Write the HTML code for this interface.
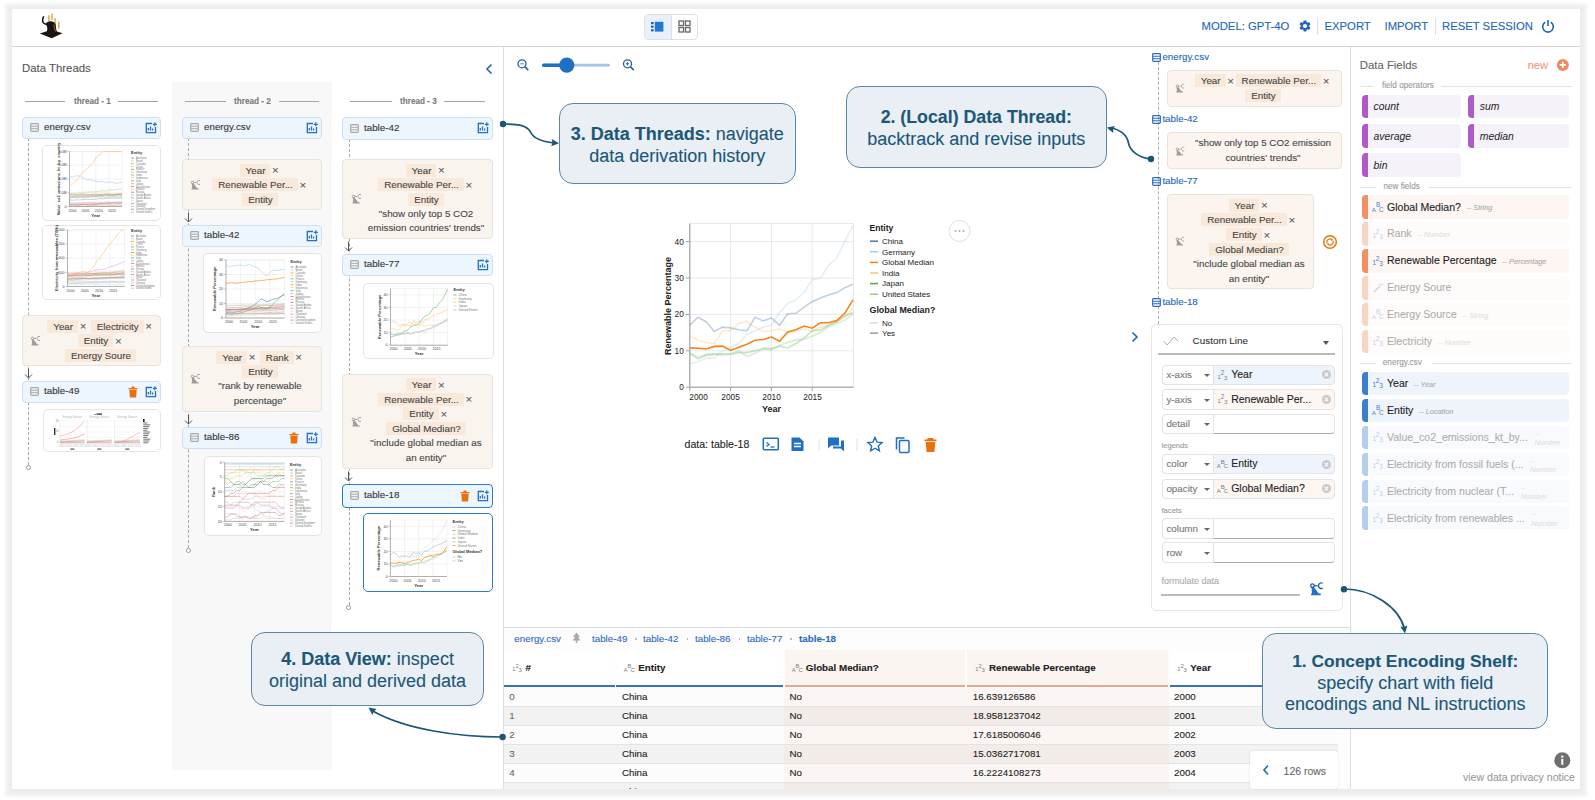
<!DOCTYPE html>
<html><head><meta charset="utf-8"><style>
*{box-sizing:border-box}
html,body{margin:0;padding:0;width:1595px;height:800px;overflow:hidden;background:#fff;font-family:"Liberation Sans",sans-serif;color:#222}
.t,.nm,.tc,.hl,.lk,.thd,.sec,.ann{-webkit-text-stroke:0.1px currentColor}
.a{position:absolute}
svg.a{overflow:visible}
.t{position:absolute;white-space:nowrap}
#frame{position:absolute;left:12px;top:9px;width:1568px;height:780px;background:#fff;box-shadow:0 1px 4px 6px rgba(0,0,0,0.075)}
.hdr{position:absolute;left:12px;top:9px;width:1568px;height:38px;border-bottom:1.5px solid #d4d4d4}
.hl{position:absolute;top:19px;font-size:11.3px;line-height:14px;color:#2266b8;white-space:nowrap}
.vsep{position:absolute;width:1px;background:#dedede}
.card{position:absolute;background:#edf5fd;border:1px solid #cddff0;border-radius:4px}
.card.sel{border:1.8px solid #2b79d0}
.nm{position:absolute;font-size:9.8px;line-height:12px;color:#333;white-space:nowrap}
.trig{position:absolute;background:#faf4ef;border:1px solid #ebe2da;border-radius:4px}
.tc{position:absolute;text-align:center;font-size:9.8px;line-height:14.5px;color:#444}
.chip{display:inline-block;background:#f8e9da;padding:0 5px 0 6px;line-height:13px;margin:0.75px 0}
.x{display:inline-block;width:10px;text-align:center;color:#555;font-size:11.5px;line-height:13px;vertical-align:top;position:relative;top:1.5px}
.mini{position:absolute;background:#fff;border:1px solid #e4e4e4;border-radius:5px;overflow:hidden}
.mini.sel{border:1.8px solid #2b79d0}
.thd{position:absolute;font-size:8.2px;font-weight:700;color:#7a7a7a;white-space:nowrap;line-height:10px}
.thl{position:absolute;height:1.4px;background:#a3a3a3}
.dash{position:absolute;width:0;border-left:1px dashed #a8a8a8}
.circ{position:absolute;width:5px;height:5px;border:1px solid #999;border-radius:50%;background:#fff}
.arr{position:absolute;font-size:11px;color:#555;line-height:12px}
.ann{position:absolute;background:#e9eff4;border:1.3px solid #5c87a3;border-radius:14px;color:#1b5878;font-size:18px;text-align:center;line-height:21.5px;white-space:nowrap}
.ann b{font-weight:700}
.lk{position:absolute;font-size:9.8px;color:#2266b8;white-space:nowrap;line-height:12px}
.lk2{position:absolute;font-size:10px;color:#2a6ac0;white-space:nowrap;line-height:12px}
.row{position:absolute;left:0;width:834px;height:19px;border-bottom:1px solid #e6e6e6}
.cell{position:absolute;top:4px;font-size:9.8px;color:#222;white-space:nowrap;line-height:12px}
.fld{position:absolute;height:24px;border-radius:4px}
.fbar{position:absolute;left:0;top:0;width:5px;height:100%;border-radius:4px 0 0 4px}
.fnm{position:absolute;left:26px;top:6px;font-size:11px;line-height:13px;white-space:nowrap}
.fty{font-size:7.5px;font-style:italic;color:#aaa;margin-left:5px}
.op{position:absolute;height:24px;border-radius:4px;background:#f5f2f9}
.op .fbar{background:#b05ac9}
.op span{position:absolute;left:11px;top:5.5px;font-size:11px;font-style:italic;line-height:13px;color:#222}
.sec{position:absolute;font-size:8.2px;color:#999;white-space:nowrap;line-height:10px}
.secl{position:absolute;height:1px;background:#e2e2e2}
.enc{position:absolute;height:21px}
.encl{position:absolute;left:0;top:0;width:53px;height:21px;border:1px solid #dcdcdc;border-radius:4px 0 0 4px;background:#fff}
.encl span{position:absolute;left:6px;top:4px;font-size:9.8px;color:#555;line-height:12px}
.encl i{position:absolute;right:6px;top:9px;width:0;height:0;border-left:3px solid transparent;border-right:3px solid transparent;border-top:3px solid #666}
.encf{position:absolute;left:52px;top:0;width:122px;height:21px;border:1px solid #dcdcdc;border-radius:0 4px 4px 0;border-bottom:1.5px solid #bbb}
</style></head><body>
<div id="frame"></div>

<svg width="0" height="0" style="position:absolute">
 <defs>
  <symbol id="tbl" viewBox="0 0 10 10"><rect x="0.75" y="0.75" width="8.5" height="8.5" rx="1" fill="none" stroke="#a9a9a9" stroke-width="1.3"/><path d="M0.8 3.6h8.4M0.8 6.4h8.4" stroke="#a9a9a9" stroke-width="1.1"/></symbol>
  <symbol id="tblb" viewBox="0 0 10 10"><rect x="0.75" y="0.75" width="8.5" height="8.5" rx="1" fill="none" stroke="#2a6ac0" stroke-width="1.3"/><path d="M0.8 3.6h8.4M0.8 6.4h8.4" stroke="#2a6ac0" stroke-width="1.1"/></symbol>
  <symbol id="cadd" viewBox="0 0 12 12"><path d="M7 1.5H1.3v9.2h9.2V5" fill="none" stroke="#2470c2" stroke-width="1.3"/><path d="M3.3 8.5v-2.5M5.5 8.5V4.5M7.6 8.5V6.5" stroke="#2470c2" stroke-width="1.3"/><path d="M9.8 0.3v4M7.8 2.3h4" stroke="#2470c2" stroke-width="1.2"/></symbol>
  <symbol id="trash" viewBox="0 0 10 12"><path d="M0.5 2h9v1.3h-9z M3.5 0.6h3v1.5h-3z" fill="#e8700f"/><path d="M1.3 3.8h7.4l-0.6 7.7h-6.2z" fill="#e8700f"/></symbol>
  <symbol id="robot" viewBox="0 0 16 16"><path d="M2.2 13.3h10.3v2H2.2z M2.6 6.2h2.3L10.4 13.3H3.2z" fill="#9c9c9c"/><circle cx="3.7" cy="5" r="1.9" fill="none" stroke="#9c9c9c" stroke-width="1.3"/><path d="M5.5 5h3.6" stroke="#9c9c9c" stroke-width="1.3"/><path d="M14.6 2.4 A3 3 0 1 0 14.6 7.6" fill="none" stroke="#9c9c9c" stroke-width="1.3"/></symbol>
  <symbol id="robotb" viewBox="0 0 16 16"><path d="M2.2 13.3h10.3v2H2.2z M2.6 6.2h2.3L10.4 13.3H3.2z" fill="#2470c2"/><circle cx="3.7" cy="5" r="1.9" fill="none" stroke="#1f5fa8" stroke-width="1.4"/><path d="M5.5 5h3.6" stroke="#1f5fa8" stroke-width="1.4"/><path d="M14.6 2.4 A3 3 0 1 0 14.6 7.6" fill="none" stroke="#1f5fa8" stroke-width="1.5"/></symbol>
  <symbol id="n123b" viewBox="0 0 12 10" overflow="visible"><g font-family="Liberation Sans" fill="#3d7fcf"><text x="0.4" y="8.8" font-size="6.4">1</text><text x="3.8" y="4.9" font-size="6.6">2</text><text x="7.2" y="9.8" font-size="6.5">3</text></g></symbol>
  <symbol id="abcb" viewBox="0 0 12 10" overflow="visible"><g font-family="Liberation Sans" fill="#3d7fcf"><text x="-0.2" y="9.3" font-size="6.2">A</text><text x="3.9" y="5.2" font-size="6.4">B</text><text x="7.0" y="9.7" font-size="6.3">C</text></g></symbol>
  <symbol id="n123" viewBox="0 0 12 10" overflow="visible"><g font-family="Liberation Sans" fill="#7d7d7d"><text x="0.4" y="8.8" font-size="6.4">1</text><text x="3.8" y="4.9" font-size="6.6">2</text><text x="7.2" y="9.8" font-size="6.5">3</text></g></symbol>
  <symbol id="abc" viewBox="0 0 12 10" overflow="visible"><g font-family="Liberation Sans" fill="#7d7d7d"><text x="-0.2" y="9.3" font-size="6.2">A</text><text x="3.9" y="5.2" font-size="6.4">B</text><text x="7.0" y="9.7" font-size="6.3">C</text></g></symbol>
 </defs>
</svg>
<div class="hdr"></div><svg class="a" style="left:35px;top:10px" width="32" height="32" viewBox="0 0 32 32">
  <path d="M13.2 5.3h1.4v5.8h-1.4z M16.3 3.8h1.4v6.2h-1.4z M19.4 8.2h1.4v9h-1.4z M23.1 11.8h1.4v6.8h-1.4z" fill="#d6a244"/>
  <path d="M8.6 6.2 C7.6 8.5 7.3 11 8.2 12.6 C9 13.8 10.3 14.1 11.3 14.3" fill="none" stroke="#1b1511" stroke-width="1.5"/>
  <path d="M10.8 14.6 C11.2 12.4 13 11.3 15.6 11.3 C18.3 11.3 20.2 12.6 20.7 14.8 C21.2 17.2 20.8 19.6 22 21.4 L27.6 23.2 L16.6 28.2 L4.8 23.6 L11.8 21.2 C12.8 19.2 12.6 16.8 10.8 14.6 Z" fill="#1b1511"/>
  <path d="M18.9 14.5 C19.6 17 19.4 19.5 20.8 21.6" stroke="#c9a35a" stroke-width="0.8" fill="none" opacity="0.8"/>
</svg><div class="a" style="left:644px;top:14px;width:54px;height:26px;border:1px solid #e0e0e0;border-radius:4px;overflow:hidden"><div class="a" style="left:0;top:0;width:27px;height:24px;background:#e8f1fb;border-right:1px solid #e0e0e0"></div></div><svg class="a" style="left:650px;top:20px" width="15" height="13"><rect x="1" y="2" width="2.6" height="2.2" fill="#2a5fa8"/><rect x="1" y="5.6" width="2.6" height="2.2" fill="#2a5fa8"/><rect x="1" y="9.2" width="2.6" height="2.2" fill="#2a5fa8"/><rect x="4.8" y="1.8" width="8.6" height="9.8" fill="#1f78d1"/></svg><svg class="a" style="left:677px;top:19px" width="15" height="15"><g fill="none" stroke="#666" stroke-width="1.3"><rect x="2" y="2" width="4.5" height="4.5"/><rect x="8.5" y="2" width="4.5" height="4.5"/><rect x="2" y="8.5" width="4.5" height="4.5"/><rect x="8.5" y="8.5" width="4.5" height="4.5"/></g></svg><div class="hl" style="left:1201.5px">MODEL: GPT-4O</div><svg class="a" style="left:1298px;top:19px" width="14" height="14" viewBox="0 0 24 24"><path fill="#2266b8" d="M19.14 12.94c.04-.3.06-.61.06-.94 0-.32-.02-.64-.07-.94l2.03-1.58c.18-.14.23-.41.12-.61l-1.92-3.32c-.12-.22-.37-.29-.59-.22l-2.39.96c-.5-.38-1.03-.7-1.62-.94l-.36-2.54c-.04-.24-.24-.41-.48-.41h-3.84c-.24 0-.43.17-.47.41l-.36 2.54c-.59.24-1.13.57-1.62.94l-2.39-.96c-.22-.08-.47 0-.59.22L2.74 8.87c-.12.21-.08.47.12.61l2.03 1.58c-.05.3-.09.63-.09.94s.02.64.07.94l-2.03 1.58c-.18.14-.23.41-.12.61l1.92 3.32c.12.22.37.29.59.22l2.39-.96c.5.38 1.03.7 1.62.94l.36 2.54c.05.24.24.41.48.41h3.84c.24 0 .44-.17.47-.41l.36-2.54c.59-.24 1.13-.56 1.62-.94l2.39.96c.22.08.47 0 .59-.22l1.92-3.32c.12-.22.07-.47-.12-.61l-2.01-1.58zM12 15.6c-1.98 0-3.6-1.62-3.6-3.6s1.62-3.6 3.6-3.6 3.6 1.62 3.6 3.6-1.62 3.6-3.6 3.6z"/></svg><div class="vsep" style="left:1317px;top:18px;height:17px"></div><div class="hl" style="left:1324.5px">EXPORT</div><div class="hl" style="left:1384.5px">IMPORT</div><div class="vsep" style="left:1435px;top:18px;height:17px"></div><div class="hl" style="left:1442px">RESET SESSION</div><svg class="a" style="left:1541px;top:19px" width="14" height="14"><path d="M4.2 3.3 A5.3 5.3 0 1 0 9.8 3.3" fill="none" stroke="#2266b8" stroke-width="1.6"/><path d="M7 1v6" stroke="#2266b8" stroke-width="1.6"/></svg>
<div class="vsep" style="left:503px;top:47px;height:742px"></div><div class="vsep" style="left:1350px;top:47px;height:742px"></div>
<div class="t" style="left:22px;top:62px;font-size:11.4px;line-height:13px;color:#555">Data Threads</div><svg class="a" style="left:484px;top:63px" width="10" height="12"><path d="M7.5 1.5 L3 6 L7.5 10.5" fill="none" stroke="#2266b8" stroke-width="1.6"/></svg><div class="a" style="left:172px;top:82px;width:160px;height:687.5px;background:#f8f8f8"></div><div class="thl" style="left:25px;top:101px;width:40px"></div><div class="thl" style="left:118px;top:101px;width:40px"></div><div class="thd" style="left:74px;top:97.3px">thread - 1</div><div class="thl" style="left:185px;top:101px;width:40.599999999999994px"></div><div class="thl" style="left:278.8px;top:101px;width:40.599999999999966px"></div><div class="thd" style="left:234px;top:97.3px">thread - 2</div><div class="thl" style="left:350.4px;top:101px;width:41.60000000000002px"></div><div class="thl" style="left:444px;top:101px;width:41px"></div><div class="thd" style="left:400px;top:97.3px">thread - 3</div><div class="dash" style="left:28px;top:138px;height:327px"></div><div class="circ" style="left:25.5px;top:464.5px"></div><div class="dash" style="left:188px;top:138px;height:410px"></div><div class="circ" style="left:185.5px;top:547.5px"></div><div class="dash" style="left:348.5px;top:139px;height:466px"></div><div class="circ" style="left:346px;top:604.5px"></div><div class="card" style="left:22px;top:116.5px;width:139px;height:22.5px"></div><svg class="a" style="left:30px;top:123.1px" width="9" height="9"><use href="#tbl"/></svg><div class="nm" style="left:44px;top:121.1px">energy.csv</div><svg class="a" style="left:144.5px;top:121.6px" width="12" height="12"><use href="#cadd"/></svg><div class="mini" style="left:42px;top:145px;width:119px;height:76px"></div><svg class="a" style="left:42px;top:145px" width="119" height="76" viewBox="42 145 119 76"><rect x="69.5" y="151.5" width="52.5" height="55.0" fill="none" stroke="#e8e8e8" stroke-width="0.5"/><line x1="69.5" y1="206.5" x2="122" y2="206.5" stroke="#e4e4e4" stroke-width="0.5"/><line x1="67.5" y1="206.5" x2="69.5" y2="206.5" stroke="#888" stroke-width="0.5"/><text x="66.5" y="207.7" font-family="Liberation Sans" font-size="3.6" text-anchor="end" fill="#444">0</text><line x1="69.5" y1="192.8" x2="122" y2="192.8" stroke="#e4e4e4" stroke-width="0.5"/><line x1="67.5" y1="192.8" x2="69.5" y2="192.8" stroke="#888" stroke-width="0.5"/><text x="66.5" y="193.9" font-family="Liberation Sans" font-size="3.6" text-anchor="end" fill="#444">2.0M</text><line x1="69.5" y1="179.0" x2="122" y2="179.0" stroke="#e4e4e4" stroke-width="0.5"/><line x1="67.5" y1="179.0" x2="69.5" y2="179.0" stroke="#888" stroke-width="0.5"/><text x="66.5" y="180.2" font-family="Liberation Sans" font-size="3.6" text-anchor="end" fill="#444">4.0M</text><line x1="69.5" y1="165.2" x2="122" y2="165.2" stroke="#e4e4e4" stroke-width="0.5"/><line x1="67.5" y1="165.2" x2="69.5" y2="165.2" stroke="#888" stroke-width="0.5"/><text x="66.5" y="166.4" font-family="Liberation Sans" font-size="3.6" text-anchor="end" fill="#444">6.0M</text><line x1="69.5" y1="151.5" x2="122" y2="151.5" stroke="#e4e4e4" stroke-width="0.5"/><line x1="67.5" y1="151.5" x2="69.5" y2="151.5" stroke="#888" stroke-width="0.5"/><text x="66.5" y="152.7" font-family="Liberation Sans" font-size="3.6" text-anchor="end" fill="#444">8.0M</text><text x="72.5" y="211.5" font-family="Liberation Sans" font-size="3.6" text-anchor="middle" fill="#444">2000</text><line x1="82.6" y1="151.5" x2="82.6" y2="206.5" stroke="#e4e4e4" stroke-width="0.5"/><text x="85.6" y="211.5" font-family="Liberation Sans" font-size="3.6" text-anchor="middle" fill="#444">2005</text><line x1="95.8" y1="151.5" x2="95.8" y2="206.5" stroke="#e4e4e4" stroke-width="0.5"/><text x="98.8" y="211.5" font-family="Liberation Sans" font-size="3.6" text-anchor="middle" fill="#444">2010</text><line x1="108.9" y1="151.5" x2="108.9" y2="206.5" stroke="#e4e4e4" stroke-width="0.5"/><text x="111.9" y="211.5" font-family="Liberation Sans" font-size="3.6" text-anchor="middle" fill="#444">2015</text><line x1="69.5" y1="151.5" x2="69.5" y2="206.5" stroke="#888" stroke-width="0.6"/><line x1="69.5" y1="206.5" x2="122" y2="206.5" stroke="#888" stroke-width="0.6"/><text transform="translate(59.5,179.0) rotate(-90)" font-family="Liberation Sans" font-size="4.1" font-weight="700" text-anchor="middle" fill="#333">Value_co2_emissions_kt_by_country</text><text x="95.8" y="216.5" font-family="Liberation Sans" font-size="4.2" font-weight="700" text-anchor="middle" fill="#333">Year</text><polyline points="69.5,199.9 72.1,200.2 74.8,200.0 77.4,199.8 80.0,200.0 82.6,199.7 85.2,199.4 87.9,199.2 90.5,199.6 93.1,199.3 95.8,199.4 98.4,198.7 101.0,198.6 103.6,199.0 106.2,198.2 108.9,198.0 111.5,198.2 114.1,198.1 116.8,198.3 119.4,198.3 122.0,197.8" fill="none" stroke="#4c78a8" stroke-width="0.6" opacity="0.55"/><polyline points="69.5,176.2 72.1,177.3 74.8,176.2 77.4,175.7 80.0,176.2 82.6,177.9 85.2,179.0 87.9,180.1 90.5,179.6 93.1,180.7 95.8,181.2 98.4,181.8 101.0,181.2 103.6,182.3 106.2,182.8 108.9,181.8 111.5,182.3 114.1,182.8 116.8,183.4 119.4,182.8 122.0,182.3" fill="none" stroke="#9ecae9" stroke-width="0.7" opacity="0.8"/><polyline points="69.5,194.5 72.1,194.5 74.8,195.1 77.4,194.9 80.0,194.3 82.6,194.6 85.2,194.1 87.9,194.5 90.5,194.7 93.1,194.2 95.8,194.0 98.4,194.3 101.0,194.4 103.6,194.2 106.2,193.6 108.9,193.7 111.5,194.1 114.1,194.0 116.8,194.0 119.4,194.0 122.0,193.3" fill="none" stroke="#f58518" stroke-width="0.6" opacity="0.55"/><polyline points="69.5,187.2 72.1,184.5 74.8,181.8 77.4,179.0 80.0,175.7 82.6,172.4 85.2,170.2 87.9,168.0 90.5,165.2 93.1,162.5 95.8,158.1 98.4,155.3 101.0,153.7 103.6,151.5 106.2,151.5 108.9,151.5 111.5,151.5 114.1,151.5 116.8,151.5 119.4,151.5 122.0,151.5" fill="none" stroke="#ffbf79" stroke-width="0.7" opacity="0.9"/><polyline points="69.5,196.0 72.1,196.2 74.8,196.1 77.4,195.7 80.0,195.9 82.6,195.6 85.2,195.7 87.9,195.6 90.5,195.1 93.1,195.5 95.8,195.4 98.4,195.1 101.0,195.6 103.6,195.6 106.2,194.9 108.9,194.9 111.5,195.4 114.1,195.4 116.8,194.9 119.4,194.7 122.0,195.2" fill="none" stroke="#54a24b" stroke-width="0.6" opacity="0.55"/><polyline points="69.5,193.4 72.1,193.3 74.8,193.3 77.4,193.1 80.0,192.1 82.6,192.5 85.2,191.9 87.9,192.0 90.5,191.3 93.1,191.2 95.8,191.3 98.4,191.1 101.0,190.4 103.6,190.7 106.2,190.4 108.9,189.9 111.5,189.4 114.1,189.4 116.8,189.4 119.4,188.6 122.0,189.0" fill="none" stroke="#88d27a" stroke-width="0.6" opacity="0.55"/><polyline points="69.5,206.3 72.1,206.5 74.8,206.5 77.4,206.3 80.0,206.1 82.6,206.5 85.2,206.2 87.9,205.8 90.5,205.7 93.1,205.9 95.8,205.9 98.4,205.9 101.0,206.3 103.6,206.3 106.2,206.3 108.9,205.6 111.5,205.7 114.1,205.5 116.8,206.2 119.4,205.7 122.0,205.8" fill="none" stroke="#b79a20" stroke-width="0.6" opacity="0.55"/><polyline points="69.5,196.0 72.1,196.8 74.8,196.3 77.4,196.1 80.0,196.0 82.6,196.1 85.2,196.0 87.9,195.9 90.5,195.8 93.1,196.2 95.8,195.9 98.4,195.7 101.0,195.7 103.6,196.0 106.2,195.6 108.9,195.5 111.5,195.7 114.1,195.7 116.8,195.8 119.4,195.6 122.0,195.5" fill="none" stroke="#f2cf5b" stroke-width="0.6" opacity="0.55"/><polyline points="69.5,205.0 72.1,204.9 74.8,204.9 77.4,205.0 80.0,204.6 82.6,204.6 85.2,204.5 87.9,204.1 90.5,204.5 93.1,203.8 95.8,204.3 98.4,203.7 101.0,203.6 103.6,203.7 106.2,203.1 108.9,203.1 111.5,202.9 114.1,202.5 116.8,202.9 119.4,202.9 122.0,202.5" fill="none" stroke="#439894" stroke-width="0.6" opacity="0.55"/><polyline points="69.5,197.4 72.1,196.8 74.8,197.0 77.4,197.2 80.0,196.8 82.6,197.3 85.2,197.0 87.9,197.4 90.5,197.2 93.1,196.9 95.8,196.8 98.4,196.9 101.0,197.3 103.6,197.1 106.2,197.3 108.9,197.5 111.5,197.2 114.1,196.9 116.8,196.9 119.4,197.0 122.0,196.8" fill="none" stroke="#83bcb6" stroke-width="0.6" opacity="0.55"/><polyline points="69.5,202.7 72.1,202.9 74.8,203.0 77.4,202.8 80.0,202.6 82.6,202.8 85.2,202.9 87.9,202.5 90.5,202.4 93.1,202.8 95.8,203.2 98.4,203.2 101.0,202.5 103.6,203.2 106.2,202.7 108.9,202.8 111.5,203.0 114.1,202.6 116.8,203.3 119.4,203.2 122.0,202.9" fill="none" stroke="#e45756" stroke-width="0.6" opacity="0.55"/><polyline points="69.5,206.4 72.1,206.2 74.8,206.1 77.4,205.4 80.0,205.3 82.6,205.0 85.2,204.7 87.9,204.4 90.5,204.1 93.1,204.1 95.8,204.2 98.4,203.8 101.0,203.8 103.6,203.7 106.2,203.2 108.9,202.7 111.5,203.0 114.1,202.7 116.8,202.4 119.4,201.9 122.0,201.8" fill="none" stroke="#ff9d98" stroke-width="0.6" opacity="0.55"/><polyline points="69.5,198.1 72.1,197.6 74.8,197.3 77.4,197.8 80.0,196.9 82.6,196.9 85.2,197.2 87.9,196.8 90.5,196.4 93.1,196.0 95.8,196.2 98.4,195.9 101.0,195.4 103.6,195.3 106.2,195.0 108.9,195.2 111.5,194.9 114.1,195.0 116.8,194.4 119.4,194.2 122.0,194.1" fill="none" stroke="#79706e" stroke-width="0.6" opacity="0.55"/><polyline points="69.5,196.3 72.1,196.2 74.8,196.2 77.4,196.6 80.0,196.4 82.6,196.8 85.2,196.3 87.9,196.3 90.5,196.7 93.1,196.9 95.8,196.6 98.4,196.5 101.0,196.4 103.6,196.6 106.2,197.0 108.9,196.3 111.5,196.9 114.1,196.3 116.8,196.8 119.4,196.7 122.0,196.3" fill="none" stroke="#bab0ac" stroke-width="0.6" opacity="0.55"/><polyline points="69.5,204.6 72.1,204.4 74.8,204.3 77.4,204.5 80.0,204.3 82.6,204.7 85.2,204.3 87.9,205.0 90.5,204.9 93.1,204.7 95.8,204.9 98.4,204.6 101.0,204.7 103.6,204.8 106.2,204.5 108.9,204.8 111.5,205.0 114.1,205.0 116.8,204.6 119.4,204.6 122.0,205.2" fill="none" stroke="#d67195" stroke-width="0.6" opacity="0.55"/><polyline points="69.5,194.8 72.1,194.5 74.8,194.5 77.4,194.0 80.0,193.7 82.6,193.4 85.2,193.6 87.9,192.6 90.5,192.7 93.1,192.5 95.8,191.9 98.4,191.8 101.0,191.6 103.6,191.2 106.2,191.5 108.9,190.8 111.5,190.6 114.1,189.9 116.8,189.7 119.4,190.0 122.0,189.5" fill="none" stroke="#fcbfd2" stroke-width="0.6" opacity="0.55"/><polyline points="69.5,204.5 72.1,204.3 74.8,204.6 77.4,204.7 80.0,204.7 82.6,204.3 85.2,203.9 87.9,204.5 90.5,203.9 93.1,204.4 95.8,204.2 98.4,204.1 101.0,203.6 103.6,203.9 106.2,203.7 108.9,203.5 111.5,203.8 114.1,203.2 116.8,203.6 119.4,203.2 122.0,203.4" fill="none" stroke="#b279a2" stroke-width="0.6" opacity="0.55"/><polyline points="69.5,203.8 72.1,203.8 74.8,203.6 77.4,203.4 80.0,203.6 82.6,203.5 85.2,203.0 87.9,202.9 90.5,202.8 93.1,202.5 95.8,202.6 98.4,202.2 101.0,202.6 103.6,202.1 106.2,201.9 108.9,201.7 111.5,202.1 114.1,202.0 116.8,201.4 119.4,201.9 122.0,201.1" fill="none" stroke="#d6a5c9" stroke-width="0.6" opacity="0.55"/><polyline points="69.5,194.5 72.1,194.1 74.8,194.5 77.4,194.7 80.0,194.1 82.6,194.5 85.2,194.2 87.9,194.8 90.5,194.6 93.1,194.3 95.8,194.9 98.4,194.8 101.0,194.4 103.6,194.3 106.2,194.2 108.9,195.0 111.5,194.7 114.1,194.5 116.8,194.7 119.4,194.6 122.0,195.0" fill="none" stroke="#9e765f" stroke-width="0.6" opacity="0.55"/><polyline points="69.5,205.9 72.1,205.5 74.8,205.6 77.4,205.6 80.0,206.0 82.6,206.0 85.2,206.0 87.9,205.5 90.5,205.4 93.1,205.5 95.8,206.2 98.4,206.2 101.0,205.5 103.6,206.0 106.2,205.8 108.9,206.2 111.5,206.1 114.1,206.1 116.8,206.2 119.4,206.1 122.0,206.5" fill="none" stroke="#d8b5a5" stroke-width="0.6" opacity="0.55"/><text x="131" y="154.2" font-family="Liberation Sans" font-size="4" font-weight="700" fill="#333">Entity</text><line x1="131" y1="158.0" x2="134" y2="158.0" stroke="#4c78a8" stroke-width="0.7"/><text x="136" y="159.0" font-family="Liberation Sans" font-size="2.71" fill="#7a7a7a">Australia</text><line x1="131" y1="160.8" x2="134" y2="160.8" stroke="#9ecae9" stroke-width="0.7"/><text x="136" y="161.8" font-family="Liberation Sans" font-size="2.71" fill="#7a7a7a">Brazil</text><line x1="131" y1="163.7" x2="134" y2="163.7" stroke="#f58518" stroke-width="0.7"/><text x="136" y="164.7" font-family="Liberation Sans" font-size="2.71" fill="#7a7a7a">Canada</text><line x1="131" y1="166.6" x2="134" y2="166.6" stroke="#ffbf79" stroke-width="0.7"/><text x="136" y="167.6" font-family="Liberation Sans" font-size="2.71" fill="#7a7a7a">China</text><line x1="131" y1="169.4" x2="134" y2="169.4" stroke="#54a24b" stroke-width="0.7"/><text x="136" y="170.4" font-family="Liberation Sans" font-size="2.71" fill="#7a7a7a">France</text><line x1="131" y1="172.2" x2="134" y2="172.2" stroke="#88d27a" stroke-width="0.7"/><text x="136" y="173.2" font-family="Liberation Sans" font-size="2.71" fill="#7a7a7a">Germany</text><line x1="131" y1="175.1" x2="134" y2="175.1" stroke="#b79a20" stroke-width="0.7"/><text x="136" y="176.1" font-family="Liberation Sans" font-size="2.71" fill="#7a7a7a">India</text><line x1="131" y1="177.9" x2="134" y2="177.9" stroke="#f2cf5b" stroke-width="0.7"/><text x="136" y="178.9" font-family="Liberation Sans" font-size="2.71" fill="#7a7a7a">Indonesia</text><line x1="131" y1="180.8" x2="134" y2="180.8" stroke="#439894" stroke-width="0.7"/><text x="136" y="181.8" font-family="Liberation Sans" font-size="2.71" fill="#7a7a7a">Italy</text><line x1="131" y1="183.7" x2="134" y2="183.7" stroke="#83bcb6" stroke-width="0.7"/><text x="136" y="184.7" font-family="Liberation Sans" font-size="2.71" fill="#7a7a7a">Japan</text><line x1="131" y1="186.5" x2="134" y2="186.5" stroke="#e45756" stroke-width="0.7"/><text x="136" y="187.5" font-family="Liberation Sans" font-size="2.71" fill="#7a7a7a">Kazakhstan</text><line x1="131" y1="189.3" x2="134" y2="189.3" stroke="#ff9d98" stroke-width="0.7"/><text x="136" y="190.3" font-family="Liberation Sans" font-size="2.71" fill="#7a7a7a">Mexico</text><line x1="131" y1="192.2" x2="134" y2="192.2" stroke="#79706e" stroke-width="0.7"/><text x="136" y="193.2" font-family="Liberation Sans" font-size="2.71" fill="#7a7a7a">Russia</text><line x1="131" y1="195.1" x2="134" y2="195.1" stroke="#bab0ac" stroke-width="0.7"/><text x="136" y="196.1" font-family="Liberation Sans" font-size="2.71" fill="#7a7a7a">Saudi Arabia</text><line x1="131" y1="197.9" x2="134" y2="197.9" stroke="#d67195" stroke-width="0.7"/><text x="136" y="198.9" font-family="Liberation Sans" font-size="2.71" fill="#7a7a7a">South Africa</text><line x1="131" y1="200.8" x2="134" y2="200.8" stroke="#fcbfd2" stroke-width="0.7"/><text x="136" y="201.8" font-family="Liberation Sans" font-size="2.71" fill="#7a7a7a">Spain</text><line x1="131" y1="203.6" x2="134" y2="203.6" stroke="#b279a2" stroke-width="0.7"/><text x="136" y="204.6" font-family="Liberation Sans" font-size="2.71" fill="#7a7a7a">Thailand</text><line x1="131" y1="206.4" x2="134" y2="206.4" stroke="#d6a5c9" stroke-width="0.7"/><text x="136" y="207.4" font-family="Liberation Sans" font-size="2.71" fill="#7a7a7a">Ukraine</text><line x1="131" y1="209.3" x2="134" y2="209.3" stroke="#9e765f" stroke-width="0.7"/><text x="136" y="210.3" font-family="Liberation Sans" font-size="2.71" fill="#7a7a7a">United Kingdom</text><line x1="131" y1="212.2" x2="134" y2="212.2" stroke="#d8b5a5" stroke-width="0.7"/><text x="136" y="213.2" font-family="Liberation Sans" font-size="2.71" fill="#7a7a7a">United States</text></svg><div class="mini" style="left:42px;top:225px;width:119px;height:75px"></div><svg class="a" style="left:42px;top:225px" width="119" height="75" viewBox="42 225 119 75"><rect x="67.5" y="230" width="57.0" height="56.5" fill="none" stroke="#e8e8e8" stroke-width="0.5"/><line x1="67.5" y1="286.5" x2="124.5" y2="286.5" stroke="#e4e4e4" stroke-width="0.5"/><line x1="65.5" y1="286.5" x2="67.5" y2="286.5" stroke="#888" stroke-width="0.5"/><text x="64.5" y="287.7" font-family="Liberation Sans" font-size="3.6" text-anchor="end" fill="#444">0</text><line x1="67.5" y1="272.4" x2="124.5" y2="272.4" stroke="#e4e4e4" stroke-width="0.5"/><line x1="65.5" y1="272.4" x2="67.5" y2="272.4" stroke="#888" stroke-width="0.5"/><text x="64.5" y="273.6" font-family="Liberation Sans" font-size="3.6" text-anchor="end" fill="#444">500</text><line x1="67.5" y1="258.2" x2="124.5" y2="258.2" stroke="#e4e4e4" stroke-width="0.5"/><line x1="65.5" y1="258.2" x2="67.5" y2="258.2" stroke="#888" stroke-width="0.5"/><text x="64.5" y="259.4" font-family="Liberation Sans" font-size="3.6" text-anchor="end" fill="#444">1,000</text><line x1="67.5" y1="244.1" x2="124.5" y2="244.1" stroke="#e4e4e4" stroke-width="0.5"/><line x1="65.5" y1="244.1" x2="67.5" y2="244.1" stroke="#888" stroke-width="0.5"/><text x="64.5" y="245.3" font-family="Liberation Sans" font-size="3.6" text-anchor="end" fill="#444">1,500</text><line x1="67.5" y1="230.0" x2="124.5" y2="230.0" stroke="#e4e4e4" stroke-width="0.5"/><line x1="65.5" y1="230.0" x2="67.5" y2="230.0" stroke="#888" stroke-width="0.5"/><text x="64.5" y="231.2" font-family="Liberation Sans" font-size="3.6" text-anchor="end" fill="#444">2,000</text><text x="70.5" y="291.5" font-family="Liberation Sans" font-size="3.6" text-anchor="middle" fill="#444">2000</text><line x1="81.8" y1="230" x2="81.8" y2="286.5" stroke="#e4e4e4" stroke-width="0.5"/><text x="84.8" y="291.5" font-family="Liberation Sans" font-size="3.6" text-anchor="middle" fill="#444">2005</text><line x1="96.0" y1="230" x2="96.0" y2="286.5" stroke="#e4e4e4" stroke-width="0.5"/><text x="99.0" y="291.5" font-family="Liberation Sans" font-size="3.6" text-anchor="middle" fill="#444">2010</text><line x1="110.2" y1="230" x2="110.2" y2="286.5" stroke="#e4e4e4" stroke-width="0.5"/><text x="113.2" y="291.5" font-family="Liberation Sans" font-size="3.6" text-anchor="middle" fill="#444">2015</text><line x1="67.5" y1="230" x2="67.5" y2="286.5" stroke="#888" stroke-width="0.6"/><line x1="67.5" y1="286.5" x2="124.5" y2="286.5" stroke="#888" stroke-width="0.6"/><text transform="translate(57.5,258.2) rotate(-90)" font-family="Liberation Sans" font-size="4.1" font-weight="700" text-anchor="middle" fill="#333">Electricity from renewables (TWh)</text><text x="96.0" y="296.5" font-family="Liberation Sans" font-size="4.2" font-weight="700" text-anchor="middle" fill="#333">Year</text><polyline points="67.5,279.7 70.3,279.9 73.2,279.9 76.0,279.4 78.9,279.3 81.8,278.7 84.6,278.7 87.5,278.6 90.3,278.5 93.2,278.2 96.0,278.5 98.8,278.1 101.7,278.1 104.5,277.4 107.4,277.9 110.2,277.1 113.1,277.6 116.0,276.9 118.8,277.0 121.7,276.8 124.5,276.3" fill="none" stroke="#4c78a8" stroke-width="0.6" opacity="0.55"/><polyline points="67.5,285.9 70.3,286.3 73.2,286.5 76.0,286.0 78.9,286.1 81.8,286.5 84.6,286.5 87.5,286.5 90.3,286.5 93.2,286.5 96.0,286.5 98.8,286.5 101.7,286.5 104.5,286.5 107.4,286.5 110.2,286.5 113.1,286.5 116.0,286.5 118.8,286.5 121.7,286.5 124.5,286.5" fill="none" stroke="#9ecae9" stroke-width="0.6" opacity="0.55"/><polyline points="67.5,275.8 70.3,275.8 73.2,275.8 76.0,275.5 78.9,275.0 81.8,274.7 84.6,274.9 87.5,274.6 90.3,274.2 93.2,273.8 96.0,273.3 98.8,273.3 101.7,273.4 104.5,272.4 107.4,272.5 110.2,272.2 113.1,272.1 116.0,271.7 118.8,271.5 121.7,270.9 124.5,271.2" fill="none" stroke="#f58518" stroke-width="0.6" opacity="0.55"/><polyline points="67.5,274.1 70.3,275.2 73.2,274.1 76.0,272.9 78.9,272.4 81.8,271.8 84.6,271.8 87.5,272.4 90.3,269.6 93.2,266.7 96.0,262.8 98.8,259.4 101.7,255.4 104.5,251.5 107.4,246.9 110.2,243.6 113.1,240.2 116.0,236.8 118.8,232.8 121.7,230.0 124.5,230.0" fill="none" stroke="#ffbf79" stroke-width="0.7" opacity="0.9"/><polyline points="67.5,275.8 70.3,276.0 73.2,275.9 76.0,275.4 78.9,275.0 81.8,274.9 84.6,275.3 87.5,275.7 90.3,275.4 93.2,274.9 96.0,274.8 98.8,274.9 101.7,275.2 104.5,274.9 107.4,274.9 110.2,274.8 113.1,275.0 116.0,274.4 118.8,274.4 121.7,274.9 124.5,274.8" fill="none" stroke="#54a24b" stroke-width="0.6" opacity="0.55"/><polyline points="67.5,273.8 70.3,274.1 73.2,273.9 76.0,273.9 78.9,274.3 81.8,274.2 84.6,274.2 87.5,273.8 90.3,273.8 93.2,274.2 96.0,273.6 98.8,273.9 101.7,274.1 104.5,273.9 107.4,273.4 110.2,273.7 113.1,273.6 116.0,273.3 118.8,273.3 121.7,273.4 124.5,273.7" fill="none" stroke="#88d27a" stroke-width="0.6" opacity="0.55"/><polyline points="67.5,277.9 70.3,277.9 73.2,277.8 76.0,277.6 78.9,277.0 81.8,276.9 84.6,277.1 87.5,276.3 90.3,275.9 93.2,275.7 96.0,275.4 98.8,275.1 101.7,275.2 104.5,274.7 107.4,274.8 110.2,274.8 113.1,274.4 116.0,274.1 118.8,273.4 121.7,273.3 124.5,273.2" fill="none" stroke="#b79a20" stroke-width="0.6" opacity="0.55"/><polyline points="67.5,277.7 70.3,277.6 73.2,277.9 76.0,278.0 78.9,277.9 81.8,278.0 84.6,277.7 87.5,278.2 90.3,278.3 93.2,278.1 96.0,277.8 98.8,277.8 101.7,277.9 104.5,277.7 107.4,278.2 110.2,278.5 113.1,278.1 116.0,278.2 118.8,278.5 121.7,278.1 124.5,278.4" fill="none" stroke="#f2cf5b" stroke-width="0.6" opacity="0.55"/><polyline points="67.5,282.8 70.3,283.5 73.2,283.2 76.0,283.2 78.9,283.2 81.8,283.0 84.6,283.1 87.5,282.5 90.3,282.8 93.2,282.6 96.0,283.0 98.8,282.7 101.7,282.5 104.5,282.3 107.4,282.7 110.2,282.5 113.1,282.1 116.0,282.1 118.8,282.6 121.7,282.2 124.5,282.0" fill="none" stroke="#439894" stroke-width="0.6" opacity="0.55"/><polyline points="67.5,280.8 70.3,280.3 73.2,280.5 76.0,280.3 78.9,280.4 81.8,279.9 84.6,280.1 87.5,279.7 90.3,279.7 93.2,279.6 96.0,279.6 98.8,279.3 101.7,278.9 104.5,279.0 107.4,279.0 110.2,278.2 113.1,278.4 116.0,277.7 118.8,277.8 121.7,277.8 124.5,277.3" fill="none" stroke="#83bcb6" stroke-width="0.6" opacity="0.55"/><polyline points="67.5,274.1 70.3,273.7 73.2,273.5 76.0,273.6 78.9,273.4 81.8,273.7 84.6,273.5 87.5,273.7 90.3,273.6 93.2,273.5 96.0,273.5 98.8,273.4 101.7,273.1 104.5,273.6 107.4,273.5 110.2,273.4 113.1,272.7 116.0,273.1 118.8,273.4 121.7,272.7 124.5,272.7" fill="none" stroke="#e45756" stroke-width="0.6" opacity="0.55"/><polyline points="67.5,274.7 70.3,275.0 73.2,275.1 76.0,274.4 78.9,274.4 81.8,274.9 84.6,274.2 87.5,274.9 90.3,274.6 93.2,274.8 96.0,274.6 98.8,274.6 101.7,274.0 104.5,274.3 107.4,274.4 110.2,274.3 113.1,274.2 116.0,273.6 118.8,273.8 121.7,274.2 124.5,273.6" fill="none" stroke="#ff9d98" stroke-width="0.6" opacity="0.55"/><polyline points="67.5,278.9 70.3,278.7 73.2,278.5 76.0,278.7 78.9,278.5 81.8,278.5 84.6,278.3 87.5,278.4 90.3,278.3 93.2,278.1 96.0,277.9 98.8,278.1 101.7,277.5 104.5,277.8 107.4,277.4 110.2,277.4 113.1,277.1 116.0,277.3 118.8,277.4 121.7,277.3 124.5,277.1" fill="none" stroke="#79706e" stroke-width="0.6" opacity="0.55"/><polyline points="67.5,276.2 70.3,276.0 73.2,275.7 76.0,275.5 78.9,275.3 81.8,275.1 84.6,274.7 87.5,274.6 90.3,273.9 93.2,273.7 96.0,273.2 98.8,273.0 101.7,272.9 104.5,272.5 107.4,273.1 110.2,272.7 113.1,271.9 116.0,272.0 118.8,272.0 121.7,271.3 124.5,271.4" fill="none" stroke="#bab0ac" stroke-width="0.6" opacity="0.55"/><polyline points="67.5,279.0 70.3,279.1 73.2,278.7 76.0,278.3 78.9,278.3 81.8,278.4 84.6,278.2 87.5,278.7 90.3,278.7 93.2,278.1 96.0,278.3 98.8,278.2 101.7,278.8 104.5,278.5 107.4,278.3 110.2,278.0 113.1,277.9 116.0,277.9 118.8,278.2 121.7,278.2 124.5,277.7" fill="none" stroke="#d67195" stroke-width="0.6" opacity="0.55"/><polyline points="67.5,272.8 70.3,272.3 73.2,272.3 76.0,272.3 78.9,272.3 81.8,272.1 84.6,271.8 87.5,272.1 90.3,271.7 93.2,271.2 96.0,271.3 98.8,271.6 101.7,271.4 104.5,271.6 107.4,270.9 110.2,270.9 113.1,271.2 116.0,270.8 118.8,270.6 121.7,270.5 124.5,270.6" fill="none" stroke="#fcbfd2" stroke-width="0.6" opacity="0.55"/><polyline points="67.5,281.7 70.3,282.2 73.2,282.0 76.0,282.0 78.9,282.2 81.8,281.9 84.6,282.0 87.5,281.9 90.3,281.8 93.2,281.8 96.0,281.2 98.8,281.7 101.7,281.6 104.5,281.3 107.4,281.4 110.2,281.3 113.1,281.1 116.0,281.6 118.8,281.0 121.7,281.4 124.5,281.2" fill="none" stroke="#b279a2" stroke-width="0.6" opacity="0.55"/><polyline points="67.5,275.2 70.3,275.2 73.2,274.6 76.0,274.6 78.9,274.1 81.8,274.1 84.6,273.5 87.5,272.4 90.3,271.8 93.2,270.7 96.0,270.1 98.8,269.6 101.7,269.6 104.5,269.0 107.4,267.9 110.2,266.7 113.1,266.2 116.0,265.0 118.8,263.9 121.7,262.8 124.5,261.1" fill="none" stroke="#d6a5c9" stroke-width="0.7" opacity="0.8"/><polyline points="67.5,276.1 70.3,276.0 73.2,275.8 76.0,276.0 78.9,276.0 81.8,276.1 84.6,275.3 87.5,275.2 90.3,275.5 93.2,274.9 96.0,274.8 98.8,275.4 101.7,274.7 104.5,274.9 107.4,274.9 110.2,274.8 113.1,274.6 116.0,274.8 118.8,274.7 121.7,274.5 124.5,274.3" fill="none" stroke="#9e765f" stroke-width="0.6" opacity="0.55"/><polyline points="67.5,284.0 70.3,284.4 73.2,284.3 76.0,284.3 78.9,284.0 81.8,284.7 84.6,284.7 87.5,284.1 90.3,284.1 93.2,284.1 96.0,284.5 98.8,284.7 101.7,284.9 104.5,284.3 107.4,284.4 110.2,284.6 113.1,284.5 116.0,284.9 118.8,284.7 121.7,284.4 124.5,285.1" fill="none" stroke="#d8b5a5" stroke-width="0.6" opacity="0.55"/><text x="131" y="232.2" font-family="Liberation Sans" font-size="4" font-weight="700" fill="#333">Entity</text><line x1="131" y1="236.0" x2="134" y2="236.0" stroke="#4c78a8" stroke-width="0.7"/><text x="136" y="237.0" font-family="Liberation Sans" font-size="2.61" fill="#7a7a7a">Australia</text><line x1="131" y1="238.8" x2="134" y2="238.8" stroke="#9ecae9" stroke-width="0.7"/><text x="136" y="239.8" font-family="Liberation Sans" font-size="2.61" fill="#7a7a7a">Brazil</text><line x1="131" y1="241.5" x2="134" y2="241.5" stroke="#f58518" stroke-width="0.7"/><text x="136" y="242.5" font-family="Liberation Sans" font-size="2.61" fill="#7a7a7a">Canada</text><line x1="131" y1="244.2" x2="134" y2="244.2" stroke="#ffbf79" stroke-width="0.7"/><text x="136" y="245.2" font-family="Liberation Sans" font-size="2.61" fill="#7a7a7a">China</text><line x1="131" y1="247.0" x2="134" y2="247.0" stroke="#54a24b" stroke-width="0.7"/><text x="136" y="248.0" font-family="Liberation Sans" font-size="2.61" fill="#7a7a7a">France</text><line x1="131" y1="249.8" x2="134" y2="249.8" stroke="#88d27a" stroke-width="0.7"/><text x="136" y="250.8" font-family="Liberation Sans" font-size="2.61" fill="#7a7a7a">Germany</text><line x1="131" y1="252.5" x2="134" y2="252.5" stroke="#b79a20" stroke-width="0.7"/><text x="136" y="253.5" font-family="Liberation Sans" font-size="2.61" fill="#7a7a7a">India</text><line x1="131" y1="255.2" x2="134" y2="255.2" stroke="#f2cf5b" stroke-width="0.7"/><text x="136" y="256.2" font-family="Liberation Sans" font-size="2.61" fill="#7a7a7a">Indonesia</text><line x1="131" y1="258.0" x2="134" y2="258.0" stroke="#439894" stroke-width="0.7"/><text x="136" y="259.0" font-family="Liberation Sans" font-size="2.61" fill="#7a7a7a">Italy</text><line x1="131" y1="260.8" x2="134" y2="260.8" stroke="#83bcb6" stroke-width="0.7"/><text x="136" y="261.8" font-family="Liberation Sans" font-size="2.61" fill="#7a7a7a">Japan</text><line x1="131" y1="263.5" x2="134" y2="263.5" stroke="#e45756" stroke-width="0.7"/><text x="136" y="264.5" font-family="Liberation Sans" font-size="2.61" fill="#7a7a7a">Kazakhstan</text><line x1="131" y1="266.2" x2="134" y2="266.2" stroke="#ff9d98" stroke-width="0.7"/><text x="136" y="267.2" font-family="Liberation Sans" font-size="2.61" fill="#7a7a7a">Mexico</text><line x1="131" y1="269.0" x2="134" y2="269.0" stroke="#79706e" stroke-width="0.7"/><text x="136" y="270.0" font-family="Liberation Sans" font-size="2.61" fill="#7a7a7a">Russia</text><line x1="131" y1="271.8" x2="134" y2="271.8" stroke="#bab0ac" stroke-width="0.7"/><text x="136" y="272.8" font-family="Liberation Sans" font-size="2.61" fill="#7a7a7a">Saudi Arabia</text><line x1="131" y1="274.5" x2="134" y2="274.5" stroke="#d67195" stroke-width="0.7"/><text x="136" y="275.5" font-family="Liberation Sans" font-size="2.61" fill="#7a7a7a">South Africa</text><line x1="131" y1="277.2" x2="134" y2="277.2" stroke="#fcbfd2" stroke-width="0.7"/><text x="136" y="278.2" font-family="Liberation Sans" font-size="2.61" fill="#7a7a7a">Spain</text><line x1="131" y1="280.0" x2="134" y2="280.0" stroke="#b279a2" stroke-width="0.7"/><text x="136" y="281.0" font-family="Liberation Sans" font-size="2.61" fill="#7a7a7a">Thailand</text><line x1="131" y1="282.8" x2="134" y2="282.8" stroke="#d6a5c9" stroke-width="0.7"/><text x="136" y="283.8" font-family="Liberation Sans" font-size="2.61" fill="#7a7a7a">Ukraine</text><line x1="131" y1="285.5" x2="134" y2="285.5" stroke="#9e765f" stroke-width="0.7"/><text x="136" y="286.5" font-family="Liberation Sans" font-size="2.61" fill="#7a7a7a">United Kingdom</text><line x1="131" y1="288.2" x2="134" y2="288.2" stroke="#d8b5a5" stroke-width="0.7"/><text x="136" y="289.2" font-family="Liberation Sans" font-size="2.61" fill="#7a7a7a">United States</text></svg><div class="trig" style="left:22px;top:315px;width:139px;height:51px"></div><svg class="a" style="left:29.5px;top:334.7px" width="11" height="11"><use href="#robot"/></svg><div class="tc" style="left:0.5px;width:200px;top:318.75px"><span class="chip">Year</span><span class="x">×</span> <span class="chip">Electricity</span><span class="x">×</span></div><div class="tc" style="left:0.5px;width:200px;top:333.25px"><span class="chip">Entity</span><span class="x">×</span></div><div class="tc" style="left:0.5px;width:200px;top:347.75px"><span class="chip">Energy Soure</span></div><svg class="a" style="left:24px;top:368px" width="9" height="11"><path d="M4.5 0.5v9.5M1 6.5l3.5 3.5 3.5-3.5" fill="none" stroke="#555" stroke-width="1"/></svg><div class="card" style="left:22px;top:380.5px;width:139px;height:22.5px"></div><svg class="a" style="left:30px;top:387.1px" width="9" height="9"><use href="#tbl"/></svg><div class="nm" style="left:44px;top:385.1px">table-49</div><svg class="a" style="left:144.5px;top:385.6px" width="12" height="12"><use href="#cadd"/></svg><svg class="a" style="left:128px;top:386.1px" width="10" height="12"><use href="#trash"/></svg><div class="mini" style="left:42.5px;top:409.3px;width:118.5px;height:42.7px"></div><svg class="a" style="left:0;top:0" width="503" height="789"><line x1="60" y1="421" x2="84.7" y2="421" stroke="#eee" stroke-width="0.5"/><line x1="60" y1="426.5" x2="84.7" y2="426.5" stroke="#eee" stroke-width="0.5"/><line x1="60" y1="432" x2="84.7" y2="432" stroke="#eee" stroke-width="0.5"/><line x1="60" y1="437.5" x2="84.7" y2="437.5" stroke="#eee" stroke-width="0.5"/><line x1="60" y1="420" x2="60" y2="443" stroke="#ddd" stroke-width="0.5"/><line x1="60" y1="443" x2="84.7" y2="443" stroke="#aaa" stroke-width="0.5"/><text x="72.35" y="417.5" font-family="Liberation Sans" font-size="3" text-anchor="middle" fill="#b5b5b5">Energy Source</text><text x="72.35" y="447" font-family="Liberation Sans" font-size="2.8" text-anchor="middle" fill="#bbb">2000 2005 2010 2015</text><rect x="70.35" y="448.5" width="4" height="1.2" fill="#555"/><polyline points="60,442 68,441.6 76,441.2 84.7,440.8" fill="none" stroke="#e06060" stroke-width="0.8" opacity="0.7"/><polyline points="60,441 72,440.5 84.7,439.8" fill="none" stroke="#9bc47a" stroke-width="0.6" opacity="0.7"/><polyline points="60,442.5 84.7,442.2" fill="none" stroke="#c77" stroke-width="0.7" opacity="0.6"/><line x1="87" y1="421" x2="111.7" y2="421" stroke="#eee" stroke-width="0.5"/><line x1="87" y1="426.5" x2="111.7" y2="426.5" stroke="#eee" stroke-width="0.5"/><line x1="87" y1="432" x2="111.7" y2="432" stroke="#eee" stroke-width="0.5"/><line x1="87" y1="437.5" x2="111.7" y2="437.5" stroke="#eee" stroke-width="0.5"/><line x1="87" y1="420" x2="87" y2="443" stroke="#ddd" stroke-width="0.5"/><line x1="87" y1="443" x2="111.7" y2="443" stroke="#aaa" stroke-width="0.5"/><text x="99.35" y="417.5" font-family="Liberation Sans" font-size="3" text-anchor="middle" fill="#b5b5b5">Energy Source</text><text x="99.35" y="447" font-family="Liberation Sans" font-size="2.8" text-anchor="middle" fill="#bbb">2000 2005 2010 2015</text><rect x="97.35" y="448.5" width="4" height="1.2" fill="#555"/><polyline points="87,442 95,441.6 103,441.2 111.7,440.8" fill="none" stroke="#e06060" stroke-width="0.8" opacity="0.7"/><polyline points="87,441 99,440.5 111.7,439.8" fill="none" stroke="#9bc47a" stroke-width="0.6" opacity="0.7"/><polyline points="87,442.5 111.7,442.2" fill="none" stroke="#c77" stroke-width="0.7" opacity="0.6"/><line x1="114.5" y1="421" x2="140" y2="421" stroke="#eee" stroke-width="0.5"/><line x1="114.5" y1="426.5" x2="140" y2="426.5" stroke="#eee" stroke-width="0.5"/><line x1="114.5" y1="432" x2="140" y2="432" stroke="#eee" stroke-width="0.5"/><line x1="114.5" y1="437.5" x2="140" y2="437.5" stroke="#eee" stroke-width="0.5"/><line x1="114.5" y1="420" x2="114.5" y2="443" stroke="#ddd" stroke-width="0.5"/><line x1="114.5" y1="443" x2="140" y2="443" stroke="#aaa" stroke-width="0.5"/><text x="127.25" y="417.5" font-family="Liberation Sans" font-size="3" text-anchor="middle" fill="#b5b5b5">Energy Source</text><text x="127.25" y="447" font-family="Liberation Sans" font-size="2.8" text-anchor="middle" fill="#bbb">2000 2005 2010 2015</text><rect x="125.25" y="448.5" width="4" height="1.2" fill="#555"/><polyline points="114.5,442 122.5,441.6 130.5,441.2 140,440.8" fill="none" stroke="#e06060" stroke-width="0.8" opacity="0.7"/><polyline points="114.5,441 126.5,440.5 140,439.8" fill="none" stroke="#9bc47a" stroke-width="0.6" opacity="0.7"/><polyline points="114.5,442.5 140,442.2" fill="none" stroke="#c77" stroke-width="0.7" opacity="0.6"/><polyline points="60,436 66,434.5 72,432 78,428 84.7,421" fill="none" stroke="#f7a090" stroke-width="0.6"/><polyline points="60,440 68,439 76,437.5 84.7,434" fill="none" stroke="#e58a7b" stroke-width="0.6"/><polyline points="114.5,442 122,441.5 128,439 134,435.5 140,432" fill="none" stroke="#f7a090" stroke-width="0.6"/><text x="58.5" y="422" font-family="Liberation Sans" font-size="2.6" text-anchor="end" fill="#777">2k</text><text x="58.5" y="432" font-family="Liberation Sans" font-size="2.6" text-anchor="end" fill="#777">1k</text><text x="58.5" y="443" font-family="Liberation Sans" font-size="2.6" text-anchor="end" fill="#777">0</text><rect x="54" y="428" width="1.4" height="7" fill="#333"/><rect x="143" y="419" width="1.6" height="3" fill="#222"/><rect x="143.3" y="422.5" width="4" height="1" fill="#555" opacity="0.8"/><rect x="143.3" y="424.3" width="7" height="1" fill="#555" opacity="0.8"/><rect x="143.3" y="426.1" width="6" height="1" fill="#555" opacity="0.8"/><rect x="143.3" y="427.9" width="5" height="1" fill="#555" opacity="0.8"/><rect x="143.3" y="429.7" width="4" height="1" fill="#555" opacity="0.8"/><rect x="143.3" y="431.5" width="7" height="1" fill="#555" opacity="0.8"/><rect x="143.3" y="433.3" width="6" height="1" fill="#555" opacity="0.8"/><rect x="143.3" y="435.1" width="5" height="1" fill="#555" opacity="0.8"/><rect x="143.3" y="436.9" width="4" height="1" fill="#555" opacity="0.8"/><rect x="143.3" y="438.7" width="7" height="1" fill="#555" opacity="0.8"/><rect x="143.3" y="440.5" width="6" height="1" fill="#555" opacity="0.8"/><rect x="143.3" y="442.3" width="5" height="1" fill="#555" opacity="0.8"/><rect x="96.5" y="413.5" width="5.5" height="1.2" fill="#222"/><rect x="94" y="414" width="2" height="0.6" fill="#444"/></svg><div class="card" style="left:182px;top:116.5px;width:140px;height:22.5px"></div><svg class="a" style="left:190px;top:123.1px" width="9" height="9"><use href="#tbl"/></svg><div class="nm" style="left:204px;top:121.1px">energy.csv</div><svg class="a" style="left:305.5px;top:121.6px" width="12" height="12"><use href="#cadd"/></svg><div class="trig" style="left:182px;top:159px;width:140px;height:51px"></div><svg class="a" style="left:189.5px;top:178.7px" width="11" height="11"><use href="#robot"/></svg><div class="tc" style="left:160px;width:200px;top:162.75px"><span class="chip">Year</span><span class="x">×</span></div><div class="tc" style="left:160px;width:200px;top:177.25px"><span class="chip">Renewable Per...</span><span class="x">×</span></div><div class="tc" style="left:160px;width:200px;top:191.75px"><span class="chip">Entity</span></div><svg class="a" style="left:184px;top:212px" width="9" height="11"><path d="M4.5 0.5v9.5M1 6.5l3.5 3.5 3.5-3.5" fill="none" stroke="#555" stroke-width="1"/></svg><div class="card" style="left:182px;top:224.5px;width:140px;height:22.5px"></div><svg class="a" style="left:190px;top:231.1px" width="9" height="9"><use href="#tbl"/></svg><div class="nm" style="left:204px;top:229.1px">table-42</div><svg class="a" style="left:305.5px;top:229.6px" width="12" height="12"><use href="#cadd"/></svg><div class="mini" style="left:203px;top:253px;width:119px;height:80px"></div><svg class="a" style="left:203px;top:253px" width="119" height="80" viewBox="203 253 119 80"><rect x="226" y="260" width="58.5" height="58" fill="none" stroke="#e8e8e8" stroke-width="0.5"/><line x1="226" y1="318.0" x2="284.5" y2="318.0" stroke="#e4e4e4" stroke-width="0.5"/><line x1="224" y1="318.0" x2="226" y2="318.0" stroke="#888" stroke-width="0.5"/><text x="223" y="319.2" font-family="Liberation Sans" font-size="3.6" text-anchor="end" fill="#444">0</text><line x1="226" y1="303.5" x2="284.5" y2="303.5" stroke="#e4e4e4" stroke-width="0.5"/><line x1="224" y1="303.5" x2="226" y2="303.5" stroke="#888" stroke-width="0.5"/><text x="223" y="304.7" font-family="Liberation Sans" font-size="3.6" text-anchor="end" fill="#444">10</text><line x1="226" y1="289.0" x2="284.5" y2="289.0" stroke="#e4e4e4" stroke-width="0.5"/><line x1="224" y1="289.0" x2="226" y2="289.0" stroke="#888" stroke-width="0.5"/><text x="223" y="290.2" font-family="Liberation Sans" font-size="3.6" text-anchor="end" fill="#444">20</text><line x1="226" y1="274.5" x2="284.5" y2="274.5" stroke="#e4e4e4" stroke-width="0.5"/><line x1="224" y1="274.5" x2="226" y2="274.5" stroke="#888" stroke-width="0.5"/><text x="223" y="275.7" font-family="Liberation Sans" font-size="3.6" text-anchor="end" fill="#444">30</text><line x1="226" y1="260.0" x2="284.5" y2="260.0" stroke="#e4e4e4" stroke-width="0.5"/><line x1="224" y1="260.0" x2="226" y2="260.0" stroke="#888" stroke-width="0.5"/><text x="223" y="261.2" font-family="Liberation Sans" font-size="3.6" text-anchor="end" fill="#444">40</text><text x="229.0" y="323" font-family="Liberation Sans" font-size="3.6" text-anchor="middle" fill="#444">2000</text><line x1="240.6" y1="260" x2="240.6" y2="318" stroke="#e4e4e4" stroke-width="0.5"/><text x="243.6" y="323" font-family="Liberation Sans" font-size="3.6" text-anchor="middle" fill="#444">2005</text><line x1="255.2" y1="260" x2="255.2" y2="318" stroke="#e4e4e4" stroke-width="0.5"/><text x="258.2" y="323" font-family="Liberation Sans" font-size="3.6" text-anchor="middle" fill="#444">2010</text><line x1="269.9" y1="260" x2="269.9" y2="318" stroke="#e4e4e4" stroke-width="0.5"/><text x="272.9" y="323" font-family="Liberation Sans" font-size="3.6" text-anchor="middle" fill="#444">2015</text><line x1="226" y1="260" x2="226" y2="318" stroke="#888" stroke-width="0.6"/><line x1="226" y1="318" x2="284.5" y2="318" stroke="#888" stroke-width="0.6"/><text transform="translate(216.0,289.0) rotate(-90)" font-family="Liberation Sans" font-size="4.1" font-weight="700" text-anchor="middle" fill="#333">Renewable Percentage</text><text x="255.2" y="328" font-family="Liberation Sans" font-size="4.2" font-weight="700" text-anchor="middle" fill="#333">Year</text><polyline points="226.0,312.2 228.9,312.2 231.8,312.8 234.8,312.2 237.7,311.6 240.6,311.0 243.6,309.3 246.5,308.7 249.4,307.6 252.3,306.4 255.2,304.1 258.2,301.8 261.1,298.9 264.0,300.0 266.9,301.8 269.9,300.6 272.8,299.4 275.7,298.9 278.6,297.7 281.6,296.0 284.5,294.8" fill="none" stroke="#4c78a8" stroke-width="0.7" opacity="0.8"/><polyline points="226.0,264.6 228.9,267.0 231.8,265.8 234.8,265.8 237.7,265.2 240.6,265.2 243.6,265.8 246.5,265.2 249.4,264.6 252.3,265.8 255.2,267.0 258.2,268.1 261.1,271.6 264.0,274.5 266.9,275.7 269.9,272.8 272.8,270.4 275.7,270.4 278.6,270.4 281.6,269.3 284.5,269.3" fill="none" stroke="#9ecae9" stroke-width="0.7" opacity="0.8"/><polyline points="226.0,283.2 228.9,283.2 231.8,282.6 234.8,283.2 237.7,283.2 240.6,282.6 243.6,282.0 246.5,282.0 249.4,281.5 252.3,281.5 255.2,280.9 258.2,280.9 261.1,280.3 264.0,280.3 266.9,279.7 269.9,279.7 272.8,279.1 275.7,279.1 278.6,278.6 281.6,278.0 284.5,277.4" fill="none" stroke="#f58518" stroke-width="0.7" opacity="0.9"/><polyline points="226.0,309.7 228.9,309.9 231.8,309.8 234.8,309.6 237.7,309.1 240.6,309.4 243.6,309.1 246.5,309.2 249.4,309.2 252.3,309.1 255.2,308.5 258.2,308.4 261.1,308.6 264.0,308.3 266.9,308.2 269.9,307.9 272.8,307.8 275.7,308.1 278.6,307.6 281.6,307.5 284.5,307.6" fill="none" stroke="#ffbf79" stroke-width="0.6" opacity="0.6"/><polyline points="226.0,313.4 228.9,313.9 231.8,314.5 234.8,313.9 237.7,313.4 240.6,312.8 243.6,312.2 246.5,311.0 249.4,309.9 252.3,309.3 255.2,308.1 258.2,306.4 261.1,307.6 264.0,308.1 266.9,308.7 269.9,307.0 272.8,304.1 275.7,301.8 278.6,298.9 281.6,296.0 284.5,293.6" fill="none" stroke="#54a24b" stroke-width="0.7" opacity="0.8"/><polyline points="226.0,305.6 228.9,306.0 231.8,305.7 234.8,305.2 237.7,305.1 240.6,305.0 243.6,305.1 246.5,305.1 249.4,304.9 252.3,304.6 255.2,304.9 258.2,304.7 261.1,304.7 264.0,304.3 266.9,304.7 269.9,304.2 272.8,303.9 275.7,304.4 278.6,304.0 281.6,303.8 284.5,303.6" fill="none" stroke="#88d27a" stroke-width="0.6" opacity="0.6"/><polyline points="226.0,310.1 228.9,309.7 231.8,309.7 234.8,310.3 237.7,310.3 240.6,310.3 243.6,310.3 246.5,310.0 249.4,310.2 252.3,309.7 255.2,309.8 258.2,310.1 261.1,309.8 264.0,310.0 266.9,309.8 269.9,310.0 272.8,310.0 275.7,310.0 278.6,309.8 281.6,309.6 284.5,309.7" fill="none" stroke="#b79a20" stroke-width="0.6" opacity="0.6"/><polyline points="226.0,316.0 228.9,316.0 231.8,315.8 234.8,316.2 237.7,315.7 240.6,315.9 243.6,315.2 246.5,315.5 249.4,315.0 252.3,315.1 255.2,314.7 258.2,314.8 261.1,314.8 264.0,314.5 266.9,314.4 269.9,313.8 272.8,314.1 275.7,313.8 278.6,313.6 281.6,313.2 284.5,313.6" fill="none" stroke="#f2cf5b" stroke-width="0.6" opacity="0.6"/><polyline points="226.0,309.7 228.9,309.5 231.8,309.8 234.8,309.5 237.7,309.5 240.6,309.4 243.6,309.6 246.5,309.0 249.4,308.8 252.3,309.2 255.2,309.1 258.2,308.5 261.1,309.1 264.0,309.0 266.9,308.9 269.9,308.3 272.8,308.3 275.7,308.4 278.6,308.2 281.6,308.5 284.5,308.0" fill="none" stroke="#439894" stroke-width="0.6" opacity="0.6"/><polyline points="226.0,311.8 228.9,311.7 231.8,311.7 234.8,311.7 237.7,311.4 240.6,311.4 243.6,311.0 246.5,310.8 249.4,310.8 252.3,310.9 255.2,311.0 258.2,310.8 261.1,310.6 264.0,310.4 266.9,310.1 269.9,310.6 272.8,310.2 275.7,310.1 278.6,309.9 281.6,309.7 284.5,309.7" fill="none" stroke="#83bcb6" stroke-width="0.6" opacity="0.6"/><polyline points="226.0,309.5 228.9,309.2 231.8,309.1 234.8,309.0 237.7,309.1 240.6,308.5 243.6,308.7 246.5,308.4 249.4,308.0 252.3,307.8 255.2,307.6 258.2,308.1 261.1,307.8 264.0,307.6 266.9,307.4 269.9,307.4 272.8,306.9 275.7,307.1 278.6,306.8 281.6,306.2 284.5,306.2" fill="none" stroke="#e45756" stroke-width="0.6" opacity="0.6"/><polyline points="226.0,311.2 228.9,311.4 231.8,311.7 234.8,311.7 237.7,311.5 240.6,311.5 243.6,311.8 246.5,311.3 249.4,311.8 252.3,311.9 255.2,311.5 258.2,312.0 261.1,311.7 264.0,312.0 266.9,311.8 269.9,312.0 272.8,312.0 275.7,311.6 278.6,312.0 281.6,312.0 284.5,311.9" fill="none" stroke="#ff9d98" stroke-width="0.6" opacity="0.6"/><polyline points="226.0,313.7 228.9,313.8 231.8,313.8 234.8,313.3 237.7,313.9 240.6,313.4 243.6,313.3 246.5,313.5 249.4,314.0 252.3,313.7 255.2,314.0 258.2,313.6 261.1,313.5 264.0,313.9 266.9,314.0 269.9,313.7 272.8,314.0 275.7,313.8 278.6,313.8 281.6,313.5 284.5,313.8" fill="none" stroke="#79706e" stroke-width="0.6" opacity="0.6"/><polyline points="226.0,315.1 228.9,315.1 231.8,315.2 234.8,315.0 237.7,314.7 240.6,314.4 243.6,314.4 246.5,313.9 249.4,313.7 252.3,313.4 255.2,313.3 258.2,313.7 261.1,313.2 264.0,313.3 266.9,312.6 269.9,312.5 272.8,312.3 275.7,312.6 278.6,312.5 281.6,311.8 284.5,311.8" fill="none" stroke="#bab0ac" stroke-width="0.6" opacity="0.6"/><polyline points="226.0,309.4 228.9,309.7 231.8,309.6 234.8,309.5 237.7,309.5 240.6,309.2 243.6,308.9 246.5,309.4 249.4,309.3 252.3,308.9 255.2,308.7 258.2,309.0 261.1,308.9 264.0,308.9 266.9,308.9 269.9,308.5 272.8,308.3 275.7,308.2 278.6,308.5 281.6,308.4 284.5,307.8" fill="none" stroke="#d67195" stroke-width="0.6" opacity="0.6"/><polyline points="226.0,310.5 228.9,310.4 231.8,310.5 234.8,310.7 237.7,310.1 240.6,310.5 243.6,310.5 246.5,310.3 249.4,310.1 252.3,310.0 255.2,310.2 258.2,309.8 261.1,309.9 264.0,310.0 266.9,309.5 269.9,309.5 272.8,309.3 275.7,309.4 278.6,309.7 281.6,309.3 284.5,309.1" fill="none" stroke="#fcbfd2" stroke-width="0.6" opacity="0.6"/><polyline points="226.0,310.3 228.9,310.5 231.8,309.9 234.8,309.7 237.7,309.6 240.6,310.0 243.6,309.5 246.5,309.1 249.4,308.9 252.3,308.6 255.2,308.5 258.2,308.6 261.1,307.9 264.0,308.0 266.9,307.5 269.9,307.8 272.8,307.0 275.7,307.1 278.6,306.8 281.6,306.6 284.5,306.3" fill="none" stroke="#b279a2" stroke-width="0.6" opacity="0.6"/><polyline points="226.0,312.7 228.9,312.9 231.8,312.7 234.8,312.5 237.7,312.9 240.6,313.1 243.6,313.2 246.5,312.9 249.4,312.9 252.3,313.3 255.2,312.9 258.2,313.2 261.1,313.3 264.0,312.8 266.9,313.1 269.9,312.9 272.8,313.2 275.7,313.5 278.6,313.4 281.6,313.3 284.5,313.2" fill="none" stroke="#d6a5c9" stroke-width="0.6" opacity="0.6"/><polyline points="226.0,307.8 228.9,307.9 231.8,307.6 234.8,307.5 237.7,307.3 240.6,307.3 243.6,306.9 246.5,306.8 249.4,306.9 252.3,306.2 255.2,306.2 258.2,305.9 261.1,305.8 264.0,305.7 266.9,305.3 269.9,305.6 272.8,305.4 275.7,305.5 278.6,304.9 281.6,304.8 284.5,304.6" fill="none" stroke="#9e765f" stroke-width="0.6" opacity="0.6"/><polyline points="226.0,305.5 228.9,305.1 231.8,305.1 234.8,305.3 237.7,305.6 240.6,305.4 243.6,305.0 246.5,305.3 249.4,305.3 252.3,305.4 255.2,305.2 258.2,305.2 261.1,305.1 264.0,305.0 266.9,305.1 269.9,305.4 272.8,305.5 275.7,305.1 278.6,305.1 281.6,305.0 284.5,305.5" fill="none" stroke="#d8b5a5" stroke-width="0.6" opacity="0.6"/><text x="290.5" y="263.2" font-family="Liberation Sans" font-size="4" font-weight="700" fill="#333">Entity</text><line x1="290.5" y1="267.0" x2="293.5" y2="267.0" stroke="#4c78a8" stroke-width="0.7"/><text x="295.5" y="268.0" font-family="Liberation Sans" font-size="2.80" fill="#7a7a7a">Australia</text><line x1="290.5" y1="269.9" x2="293.5" y2="269.9" stroke="#9ecae9" stroke-width="0.7"/><text x="295.5" y="270.9" font-family="Liberation Sans" font-size="2.80" fill="#7a7a7a">Brazil</text><line x1="290.5" y1="272.9" x2="293.5" y2="272.9" stroke="#f58518" stroke-width="0.7"/><text x="295.5" y="273.9" font-family="Liberation Sans" font-size="2.80" fill="#7a7a7a">Canada</text><line x1="290.5" y1="275.9" x2="293.5" y2="275.9" stroke="#ffbf79" stroke-width="0.7"/><text x="295.5" y="276.9" font-family="Liberation Sans" font-size="2.80" fill="#7a7a7a">China</text><line x1="290.5" y1="278.8" x2="293.5" y2="278.8" stroke="#54a24b" stroke-width="0.7"/><text x="295.5" y="279.8" font-family="Liberation Sans" font-size="2.80" fill="#7a7a7a">France</text><line x1="290.5" y1="281.8" x2="293.5" y2="281.8" stroke="#88d27a" stroke-width="0.7"/><text x="295.5" y="282.8" font-family="Liberation Sans" font-size="2.80" fill="#7a7a7a">Germany</text><line x1="290.5" y1="284.7" x2="293.5" y2="284.7" stroke="#b79a20" stroke-width="0.7"/><text x="295.5" y="285.7" font-family="Liberation Sans" font-size="2.80" fill="#7a7a7a">India</text><line x1="290.5" y1="287.6" x2="293.5" y2="287.6" stroke="#f2cf5b" stroke-width="0.7"/><text x="295.5" y="288.6" font-family="Liberation Sans" font-size="2.80" fill="#7a7a7a">Indonesia</text><line x1="290.5" y1="290.6" x2="293.5" y2="290.6" stroke="#439894" stroke-width="0.7"/><text x="295.5" y="291.6" font-family="Liberation Sans" font-size="2.80" fill="#7a7a7a">Italy</text><line x1="290.5" y1="293.6" x2="293.5" y2="293.6" stroke="#83bcb6" stroke-width="0.7"/><text x="295.5" y="294.6" font-family="Liberation Sans" font-size="2.80" fill="#7a7a7a">Japan</text><line x1="290.5" y1="296.5" x2="293.5" y2="296.5" stroke="#e45756" stroke-width="0.7"/><text x="295.5" y="297.5" font-family="Liberation Sans" font-size="2.80" fill="#7a7a7a">Kazakhstan</text><line x1="290.5" y1="299.4" x2="293.5" y2="299.4" stroke="#ff9d98" stroke-width="0.7"/><text x="295.5" y="300.4" font-family="Liberation Sans" font-size="2.80" fill="#7a7a7a">Mexico</text><line x1="290.5" y1="302.4" x2="293.5" y2="302.4" stroke="#79706e" stroke-width="0.7"/><text x="295.5" y="303.4" font-family="Liberation Sans" font-size="2.80" fill="#7a7a7a">Russia</text><line x1="290.5" y1="305.4" x2="293.5" y2="305.4" stroke="#bab0ac" stroke-width="0.7"/><text x="295.5" y="306.4" font-family="Liberation Sans" font-size="2.80" fill="#7a7a7a">Saudi Arabia</text><line x1="290.5" y1="308.3" x2="293.5" y2="308.3" stroke="#d67195" stroke-width="0.7"/><text x="295.5" y="309.3" font-family="Liberation Sans" font-size="2.80" fill="#7a7a7a">South Africa</text><line x1="290.5" y1="311.2" x2="293.5" y2="311.2" stroke="#fcbfd2" stroke-width="0.7"/><text x="295.5" y="312.2" font-family="Liberation Sans" font-size="2.80" fill="#7a7a7a">Spain</text><line x1="290.5" y1="314.2" x2="293.5" y2="314.2" stroke="#b279a2" stroke-width="0.7"/><text x="295.5" y="315.2" font-family="Liberation Sans" font-size="2.80" fill="#7a7a7a">Thailand</text><line x1="290.5" y1="317.1" x2="293.5" y2="317.1" stroke="#d6a5c9" stroke-width="0.7"/><text x="295.5" y="318.1" font-family="Liberation Sans" font-size="2.80" fill="#7a7a7a">Ukraine</text><line x1="290.5" y1="320.1" x2="293.5" y2="320.1" stroke="#9e765f" stroke-width="0.7"/><text x="295.5" y="321.1" font-family="Liberation Sans" font-size="2.80" fill="#7a7a7a">United Kingdom</text><line x1="290.5" y1="323.1" x2="293.5" y2="323.1" stroke="#d8b5a5" stroke-width="0.7"/><text x="295.5" y="324.1" font-family="Liberation Sans" font-size="2.80" fill="#7a7a7a">United States</text></svg><div class="trig" style="left:182px;top:346px;width:140px;height:66px"></div><svg class="a" style="left:189.5px;top:373.2px" width="11" height="11"><use href="#robot"/></svg><div class="tc" style="left:160px;width:200px;top:349.75px"><span class="chip">Year</span><span class="x">×</span> <span class="chip">Rank</span><span class="x">×</span></div><div class="tc" style="left:160px;width:200px;top:364.45px"><span class="chip">Entity</span></div><div class="tc" style="left:160px;width:200px;top:379.15px">"rank by renewable</div><div class="tc" style="left:160px;width:200px;top:393.85px">percentage"</div><svg class="a" style="left:184px;top:414px" width="9" height="11"><path d="M4.5 0.5v9.5M1 6.5l3.5 3.5 3.5-3.5" fill="none" stroke="#555" stroke-width="1"/></svg><div class="card" style="left:182px;top:426.5px;width:140px;height:22.5px"></div><svg class="a" style="left:190px;top:433.1px" width="9" height="9"><use href="#tbl"/></svg><div class="nm" style="left:204px;top:431.1px">table-86</div><svg class="a" style="left:305.5px;top:431.6px" width="12" height="12"><use href="#cadd"/></svg><svg class="a" style="left:289px;top:432.1px" width="10" height="12"><use href="#trash"/></svg><div class="mini" style="left:204px;top:456px;width:118px;height:80px"></div><svg class="a" style="left:204px;top:456px" width="118" height="80" viewBox="204 456 118 80"><rect x="224.7" y="462.4" width="59.69999999999999" height="59.0" fill="none" stroke="#e8e8e8" stroke-width="0.5"/><line x1="224.7" y1="521.4" x2="284.4" y2="521.4" stroke="#e4e4e4" stroke-width="0.5"/><line x1="222.7" y1="521.4" x2="224.7" y2="521.4" stroke="#888" stroke-width="0.5"/><text x="221.7" y="522.6" font-family="Liberation Sans" font-size="3.6" text-anchor="end" fill="#444">20</text><line x1="224.7" y1="506.6" x2="284.4" y2="506.6" stroke="#e4e4e4" stroke-width="0.5"/><line x1="222.7" y1="506.6" x2="224.7" y2="506.6" stroke="#888" stroke-width="0.5"/><text x="221.7" y="507.8" font-family="Liberation Sans" font-size="3.6" text-anchor="end" fill="#444">15</text><line x1="224.7" y1="491.9" x2="284.4" y2="491.9" stroke="#e4e4e4" stroke-width="0.5"/><line x1="222.7" y1="491.9" x2="224.7" y2="491.9" stroke="#888" stroke-width="0.5"/><text x="221.7" y="493.1" font-family="Liberation Sans" font-size="3.6" text-anchor="end" fill="#444">10</text><line x1="224.7" y1="477.1" x2="284.4" y2="477.1" stroke="#e4e4e4" stroke-width="0.5"/><line x1="222.7" y1="477.1" x2="224.7" y2="477.1" stroke="#888" stroke-width="0.5"/><text x="221.7" y="478.3" font-family="Liberation Sans" font-size="3.6" text-anchor="end" fill="#444">5</text><line x1="224.7" y1="462.4" x2="284.4" y2="462.4" stroke="#e4e4e4" stroke-width="0.5"/><line x1="222.7" y1="462.4" x2="224.7" y2="462.4" stroke="#888" stroke-width="0.5"/><text x="221.7" y="463.6" font-family="Liberation Sans" font-size="3.6" text-anchor="end" fill="#444">0</text><text x="227.7" y="526.4" font-family="Liberation Sans" font-size="3.6" text-anchor="middle" fill="#444">2000</text><line x1="239.6" y1="462.4" x2="239.6" y2="521.4" stroke="#e4e4e4" stroke-width="0.5"/><text x="242.6" y="526.4" font-family="Liberation Sans" font-size="3.6" text-anchor="middle" fill="#444">2005</text><line x1="254.5" y1="462.4" x2="254.5" y2="521.4" stroke="#e4e4e4" stroke-width="0.5"/><text x="257.5" y="526.4" font-family="Liberation Sans" font-size="3.6" text-anchor="middle" fill="#444">2010</text><line x1="269.5" y1="462.4" x2="269.5" y2="521.4" stroke="#e4e4e4" stroke-width="0.5"/><text x="272.5" y="526.4" font-family="Liberation Sans" font-size="3.6" text-anchor="middle" fill="#444">2015</text><line x1="224.7" y1="462.4" x2="224.7" y2="521.4" stroke="#888" stroke-width="0.6"/><line x1="224.7" y1="521.4" x2="284.4" y2="521.4" stroke="#888" stroke-width="0.6"/><text transform="translate(214.7,491.9) rotate(-90)" font-family="Liberation Sans" font-size="4.1" font-weight="700" text-anchor="middle" fill="#333">Rank</text><text x="254.5" y="531.4" font-family="Liberation Sans" font-size="4.2" font-weight="700" text-anchor="middle" fill="#333">Year</text><polyline points="224.7,463.9 227.7,463.9 230.7,463.9 233.7,463.9 236.6,463.9 239.6,463.9 242.6,463.9 245.6,463.9 248.6,463.9 251.6,463.9 254.5,463.9 257.5,463.9 260.5,463.9 263.5,463.9 266.5,463.9 269.5,463.9 272.5,463.9 275.4,463.9 278.4,463.9 281.4,463.9 284.4,463.9" fill="none" stroke="#4c78a8" stroke-width="0.7" opacity="0.6"/><polyline points="224.7,466.8 227.7,466.8 230.7,466.8 233.7,466.8 236.6,466.8 239.6,466.8 242.6,466.8 245.6,466.8 248.6,466.8 251.6,466.8 254.5,466.8 257.5,466.8 260.5,466.8 263.5,466.8 266.5,466.8 269.5,466.8 272.5,466.8 275.4,466.8 278.4,466.8 281.4,466.8 284.4,466.8" fill="none" stroke="#9ecae9" stroke-width="0.7" opacity="0.6"/><polyline points="224.7,469.8 227.7,469.8 230.7,469.8 233.7,469.8 236.6,469.8 239.6,469.8 242.6,469.8 245.6,469.8 248.6,469.8 251.6,469.8 254.5,469.8 257.5,469.8 260.5,469.8 263.5,469.8 266.5,469.8 269.5,469.8 272.5,469.8 275.4,469.8 278.4,469.8 281.4,469.8 284.4,469.8" fill="none" stroke="#f58518" stroke-width="0.7" opacity="0.6"/><polyline points="224.7,472.7 227.7,472.7 230.7,472.7 233.7,472.7 236.6,472.7 239.6,472.7 242.6,469.8 245.6,469.8 248.6,472.7 251.6,472.7 254.5,469.8 257.5,469.8 260.5,469.8 263.5,472.7 266.5,475.7 269.5,475.7 272.5,472.7 275.4,475.7 278.4,472.7 281.4,475.7 284.4,475.7" fill="none" stroke="#ffbf79" stroke-width="0.7" opacity="0.6"/><polyline points="224.7,478.6 227.7,478.6 230.7,481.6 233.7,484.5 236.6,484.5 239.6,484.5 242.6,487.5 245.6,487.5 248.6,487.5 251.6,484.5 254.5,484.5 257.5,484.5 260.5,481.6 263.5,484.5 266.5,484.5 269.5,484.5 272.5,481.6 275.4,481.6 278.4,481.6 281.4,478.6 284.4,478.6" fill="none" stroke="#54a24b" stroke-width="0.7" opacity="0.6"/><polyline points="224.7,475.7 227.7,475.7 230.7,472.7 233.7,472.7 236.6,469.8 239.6,469.8 242.6,469.8 245.6,472.7 248.6,472.7 251.6,472.7 254.5,472.7 257.5,475.7 260.5,475.7 263.5,475.7 266.5,472.7 269.5,472.7 272.5,469.8 275.4,466.8 278.4,466.8 281.4,469.8 284.4,466.8" fill="none" stroke="#88d27a" stroke-width="0.7" opacity="0.6"/><polyline points="224.7,481.6 227.7,484.5 230.7,481.6 233.7,484.5 236.6,484.5 239.6,484.5 242.6,481.6 245.6,484.5 248.6,481.6 251.6,478.6 254.5,478.6 257.5,478.6 260.5,478.6 263.5,481.6 266.5,481.6 269.5,484.5 272.5,487.5 275.4,487.5 278.4,487.5 281.4,484.5 284.4,484.5" fill="none" stroke="#b79a20" stroke-width="0.7" opacity="0.6"/><polyline points="224.7,481.6 227.7,478.6 230.7,478.6 233.7,478.6 236.6,475.7 239.6,475.7 242.6,475.7 245.6,472.7 248.6,469.8 251.6,469.8 254.5,472.7 257.5,472.7 260.5,472.7 263.5,475.7 266.5,475.7 269.5,475.7 272.5,475.7 275.4,475.7 278.4,472.7 281.4,472.7 284.4,472.7" fill="none" stroke="#f2cf5b" stroke-width="0.7" opacity="0.6"/><polyline points="224.7,487.5 227.7,487.5 230.7,487.5 233.7,484.5 236.6,481.6 239.6,481.6 242.6,484.5 245.6,484.5 248.6,481.6 251.6,478.6 254.5,478.6 257.5,478.6 260.5,478.6 263.5,478.6 266.5,475.7 269.5,475.7 272.5,475.7 275.4,475.7 278.4,475.7 281.4,475.7 284.4,475.7" fill="none" stroke="#439894" stroke-width="0.7" opacity="0.6"/><polyline points="224.7,490.4 227.7,490.4 230.7,490.4 233.7,490.4 236.6,487.5 239.6,487.5 242.6,487.5 245.6,487.5 248.6,487.5 251.6,487.5 254.5,484.5 257.5,481.6 260.5,481.6 263.5,484.5 266.5,484.5 269.5,484.5 272.5,487.5 275.4,487.5 278.4,484.5 281.4,484.5 284.4,487.5" fill="none" stroke="#83bcb6" stroke-width="0.7" opacity="0.6"/><polyline points="224.7,496.3 227.7,496.3 230.7,496.3 233.7,496.3 236.6,496.3 239.6,496.3 242.6,499.3 245.6,496.3 248.6,493.4 251.6,493.4 254.5,493.4 257.5,493.4 260.5,493.4 263.5,493.4 266.5,493.4 269.5,493.4 272.5,490.4 275.4,490.4 278.4,487.5 281.4,487.5 284.4,487.5" fill="none" stroke="#e45756" stroke-width="0.7" opacity="0.6"/><polyline points="224.7,496.3 227.7,496.3 230.7,496.3 233.7,496.3 236.6,493.4 239.6,493.4 242.6,493.4 245.6,493.4 248.6,493.4 251.6,493.4 254.5,493.4 257.5,496.3 260.5,499.3 263.5,496.3 266.5,496.3 269.5,496.3 272.5,496.3 275.4,496.3 278.4,496.3 281.4,496.3 284.4,496.3" fill="none" stroke="#ff9d98" stroke-width="0.7" opacity="0.6"/><polyline points="224.7,496.3 227.7,496.3 230.7,493.4 233.7,493.4 236.6,490.4 239.6,490.4 242.6,487.5 245.6,484.5 248.6,487.5 251.6,487.5 254.5,487.5 257.5,484.5 260.5,481.6 263.5,481.6 266.5,478.6 269.5,478.6 272.5,478.6 275.4,475.7 278.4,475.7 281.4,475.7 284.4,475.7" fill="none" stroke="#79706e" stroke-width="0.7" opacity="0.6"/><polyline points="224.7,502.2 227.7,502.2 230.7,505.2 233.7,502.2 236.6,502.2 239.6,502.2 242.6,499.3 245.6,499.3 248.6,499.3 251.6,499.3 254.5,496.3 257.5,496.3 260.5,496.3 263.5,499.3 266.5,496.3 269.5,496.3 272.5,496.3 275.4,496.3 278.4,496.3 281.4,496.3 284.4,496.3" fill="none" stroke="#bab0ac" stroke-width="0.7" opacity="0.6"/><polyline points="224.7,505.2 227.7,505.2 230.7,505.2 233.7,505.2 236.6,505.2 239.6,505.2 242.6,508.1 245.6,508.1 248.6,508.1 251.6,505.2 254.5,505.2 257.5,502.2 260.5,502.2 263.5,502.2 266.5,502.2 269.5,502.2 272.5,502.2 275.4,502.2 278.4,505.2 281.4,508.1 284.4,508.1" fill="none" stroke="#d67195" stroke-width="0.7" opacity="0.6"/><polyline points="224.7,508.1 227.7,505.2 230.7,505.2 233.7,505.2 236.6,505.2 239.6,508.1 242.6,511.1 245.6,511.1 248.6,508.1 251.6,508.1 254.5,508.1 257.5,511.1 260.5,511.1 263.5,514.0 266.5,517.0 269.5,517.0 272.5,517.0 275.4,518.4 278.4,518.4 281.4,518.4 284.4,515.5" fill="none" stroke="#fcbfd2" stroke-width="0.7" opacity="0.6"/><polyline points="224.7,508.1 227.7,508.1 230.7,508.1 233.7,508.1 236.6,505.2 239.6,502.2 242.6,502.2 245.6,502.2 248.6,502.2 251.6,505.2 254.5,502.2 257.5,502.2 260.5,505.2 263.5,505.2 266.5,505.2 269.5,505.2 272.5,508.1 275.4,508.1 278.4,511.1 281.4,514.0 284.4,514.0" fill="none" stroke="#b279a2" stroke-width="0.7" opacity="0.6"/><polyline points="224.7,514.0 227.7,514.0 230.7,514.0 233.7,514.0 236.6,517.0 239.6,517.0 242.6,517.0 245.6,517.0 248.6,517.0 251.6,517.0 254.5,517.0 257.5,517.0 260.5,514.0 263.5,514.0 266.5,511.1 269.5,511.1 272.5,508.1 275.4,508.1 278.4,508.1 281.4,508.1 284.4,508.1" fill="none" stroke="#d6a5c9" stroke-width="0.7" opacity="0.6"/><polyline points="224.7,517.0 227.7,517.0 230.7,514.0 233.7,514.0 236.6,514.0 239.6,517.0 242.6,517.0 245.6,517.0 248.6,518.4 251.6,518.4 254.5,515.5 257.5,515.5 260.5,512.5 263.5,512.5 266.5,512.5 269.5,512.5 272.5,512.5 275.4,512.5 278.4,515.5 281.4,515.5 284.4,512.5" fill="none" stroke="#9e765f" stroke-width="0.7" opacity="0.6"/><polyline points="224.7,519.9 227.7,519.9 230.7,519.9 233.7,518.4 236.6,518.4 239.6,518.4 242.6,518.4 245.6,515.5 248.6,518.4 251.6,518.4 254.5,518.4 257.5,518.4 260.5,518.4 263.5,515.5 266.5,518.4 269.5,518.4 272.5,518.4 275.4,518.4 278.4,518.4 281.4,518.4 284.4,518.4" fill="none" stroke="#d8b5a5" stroke-width="0.7" opacity="0.6"/><text x="290" y="466.2" font-family="Liberation Sans" font-size="4" font-weight="700" fill="#333">Entity</text><line x1="290" y1="470.0" x2="293" y2="470.0" stroke="#4c78a8" stroke-width="0.7"/><text x="295" y="471.0" font-family="Liberation Sans" font-size="2.80" fill="#7a7a7a">Australia</text><line x1="290" y1="472.9" x2="293" y2="472.9" stroke="#9ecae9" stroke-width="0.7"/><text x="295" y="473.9" font-family="Liberation Sans" font-size="2.80" fill="#7a7a7a">Brazil</text><line x1="290" y1="475.9" x2="293" y2="475.9" stroke="#f58518" stroke-width="0.7"/><text x="295" y="476.9" font-family="Liberation Sans" font-size="2.80" fill="#7a7a7a">Canada</text><line x1="290" y1="478.9" x2="293" y2="478.9" stroke="#ffbf79" stroke-width="0.7"/><text x="295" y="479.9" font-family="Liberation Sans" font-size="2.80" fill="#7a7a7a">China</text><line x1="290" y1="481.8" x2="293" y2="481.8" stroke="#54a24b" stroke-width="0.7"/><text x="295" y="482.8" font-family="Liberation Sans" font-size="2.80" fill="#7a7a7a">France</text><line x1="290" y1="484.8" x2="293" y2="484.8" stroke="#88d27a" stroke-width="0.7"/><text x="295" y="485.8" font-family="Liberation Sans" font-size="2.80" fill="#7a7a7a">Germany</text><line x1="290" y1="487.7" x2="293" y2="487.7" stroke="#b79a20" stroke-width="0.7"/><text x="295" y="488.7" font-family="Liberation Sans" font-size="2.80" fill="#7a7a7a">India</text><line x1="290" y1="490.6" x2="293" y2="490.6" stroke="#f2cf5b" stroke-width="0.7"/><text x="295" y="491.6" font-family="Liberation Sans" font-size="2.80" fill="#7a7a7a">Indonesia</text><line x1="290" y1="493.6" x2="293" y2="493.6" stroke="#439894" stroke-width="0.7"/><text x="295" y="494.6" font-family="Liberation Sans" font-size="2.80" fill="#7a7a7a">Italy</text><line x1="290" y1="496.6" x2="293" y2="496.6" stroke="#83bcb6" stroke-width="0.7"/><text x="295" y="497.6" font-family="Liberation Sans" font-size="2.80" fill="#7a7a7a">Japan</text><line x1="290" y1="499.5" x2="293" y2="499.5" stroke="#e45756" stroke-width="0.7"/><text x="295" y="500.5" font-family="Liberation Sans" font-size="2.80" fill="#7a7a7a">Kazakhstan</text><line x1="290" y1="502.4" x2="293" y2="502.4" stroke="#ff9d98" stroke-width="0.7"/><text x="295" y="503.4" font-family="Liberation Sans" font-size="2.80" fill="#7a7a7a">Mexico</text><line x1="290" y1="505.4" x2="293" y2="505.4" stroke="#79706e" stroke-width="0.7"/><text x="295" y="506.4" font-family="Liberation Sans" font-size="2.80" fill="#7a7a7a">Russia</text><line x1="290" y1="508.4" x2="293" y2="508.4" stroke="#bab0ac" stroke-width="0.7"/><text x="295" y="509.4" font-family="Liberation Sans" font-size="2.80" fill="#7a7a7a">Saudi Arabia</text><line x1="290" y1="511.3" x2="293" y2="511.3" stroke="#d67195" stroke-width="0.7"/><text x="295" y="512.3" font-family="Liberation Sans" font-size="2.80" fill="#7a7a7a">South Africa</text><line x1="290" y1="514.2" x2="293" y2="514.2" stroke="#fcbfd2" stroke-width="0.7"/><text x="295" y="515.2" font-family="Liberation Sans" font-size="2.80" fill="#7a7a7a">Spain</text><line x1="290" y1="517.2" x2="293" y2="517.2" stroke="#b279a2" stroke-width="0.7"/><text x="295" y="518.2" font-family="Liberation Sans" font-size="2.80" fill="#7a7a7a">Thailand</text><line x1="290" y1="520.1" x2="293" y2="520.1" stroke="#d6a5c9" stroke-width="0.7"/><text x="295" y="521.1" font-family="Liberation Sans" font-size="2.80" fill="#7a7a7a">Ukraine</text><line x1="290" y1="523.1" x2="293" y2="523.1" stroke="#9e765f" stroke-width="0.7"/><text x="295" y="524.1" font-family="Liberation Sans" font-size="2.80" fill="#7a7a7a">United Kingdom</text><line x1="290" y1="526.0" x2="293" y2="526.0" stroke="#d8b5a5" stroke-width="0.7"/><text x="295" y="527.0" font-family="Liberation Sans" font-size="2.80" fill="#7a7a7a">United States</text></svg><div class="card" style="left:342px;top:116.5px;width:151px;height:23.5px"></div><svg class="a" style="left:350px;top:123.6px" width="9" height="9"><use href="#tbl"/></svg><div class="nm" style="left:364px;top:121.6px">table-42</div><svg class="a" style="left:476.5px;top:122.1px" width="12" height="12"><use href="#cadd"/></svg><div class="trig" style="left:342px;top:159px;width:151px;height:80px"></div><svg class="a" style="left:350.5px;top:193.2px" width="11" height="11"><use href="#robot"/></svg><div class="tc" style="left:326px;width:200px;top:162.75px"><span class="chip">Year</span><span class="x">×</span></div><div class="tc" style="left:326px;width:200px;top:177.35px"><span class="chip">Renewable Per...</span><span class="x">×</span></div><div class="tc" style="left:326px;width:200px;top:191.95px"><span class="chip">Entity</span></div><div class="tc" style="left:326px;width:200px;top:206.55px">"show only top 5 CO2</div><div class="tc" style="left:326px;width:200px;top:221.15px">emission countries' trends"</div><svg class="a" style="left:344px;top:241px" width="9" height="11"><path d="M4.5 0.5v9.5M1 6.5l3.5 3.5 3.5-3.5" fill="none" stroke="#555" stroke-width="1"/></svg><div class="card" style="left:342px;top:253.5px;width:151px;height:22.5px"></div><svg class="a" style="left:350px;top:260.1px" width="9" height="9"><use href="#tbl"/></svg><div class="nm" style="left:364px;top:258.1px">table-77</div><svg class="a" style="left:476.5px;top:258.6px" width="12" height="12"><use href="#cadd"/></svg><div class="mini" style="left:363px;top:283px;width:131px;height:76px"></div><svg class="a" style="left:363px;top:283px" width="131" height="76" viewBox="363 283 131 76"><rect x="390.5" y="288.5" width="57.19999999999999" height="56.69999999999999" fill="none" stroke="#e8e8e8" stroke-width="0.5"/><line x1="390.5" y1="345.2" x2="447.7" y2="345.2" stroke="#e4e4e4" stroke-width="0.5"/><line x1="388.5" y1="345.2" x2="390.5" y2="345.2" stroke="#888" stroke-width="0.5"/><text x="387.5" y="346.4" font-family="Liberation Sans" font-size="3.6" text-anchor="end" fill="#444">0</text><line x1="390.5" y1="332.6" x2="447.7" y2="332.6" stroke="#e4e4e4" stroke-width="0.5"/><line x1="388.5" y1="332.6" x2="390.5" y2="332.6" stroke="#888" stroke-width="0.5"/><text x="387.5" y="333.8" font-family="Liberation Sans" font-size="3.6" text-anchor="end" fill="#444">10</text><line x1="390.5" y1="320.0" x2="447.7" y2="320.0" stroke="#e4e4e4" stroke-width="0.5"/><line x1="388.5" y1="320.0" x2="390.5" y2="320.0" stroke="#888" stroke-width="0.5"/><text x="387.5" y="321.2" font-family="Liberation Sans" font-size="3.6" text-anchor="end" fill="#444">20</text><line x1="390.5" y1="307.4" x2="447.7" y2="307.4" stroke="#e4e4e4" stroke-width="0.5"/><line x1="388.5" y1="307.4" x2="390.5" y2="307.4" stroke="#888" stroke-width="0.5"/><text x="387.5" y="308.6" font-family="Liberation Sans" font-size="3.6" text-anchor="end" fill="#444">30</text><line x1="390.5" y1="294.8" x2="447.7" y2="294.8" stroke="#e4e4e4" stroke-width="0.5"/><line x1="388.5" y1="294.8" x2="390.5" y2="294.8" stroke="#888" stroke-width="0.5"/><text x="387.5" y="296.0" font-family="Liberation Sans" font-size="3.6" text-anchor="end" fill="#444">40</text><text x="393.5" y="350.2" font-family="Liberation Sans" font-size="3.6" text-anchor="middle" fill="#444">2000</text><line x1="404.8" y1="288.5" x2="404.8" y2="345.2" stroke="#e4e4e4" stroke-width="0.5"/><text x="407.8" y="350.2" font-family="Liberation Sans" font-size="3.6" text-anchor="middle" fill="#444">2005</text><line x1="419.1" y1="288.5" x2="419.1" y2="345.2" stroke="#e4e4e4" stroke-width="0.5"/><text x="422.1" y="350.2" font-family="Liberation Sans" font-size="3.6" text-anchor="middle" fill="#444">2010</text><line x1="433.4" y1="288.5" x2="433.4" y2="345.2" stroke="#e4e4e4" stroke-width="0.5"/><text x="436.4" y="350.2" font-family="Liberation Sans" font-size="3.6" text-anchor="middle" fill="#444">2015</text><line x1="390.5" y1="288.5" x2="390.5" y2="345.2" stroke="#888" stroke-width="0.6"/><line x1="390.5" y1="345.2" x2="447.7" y2="345.2" stroke="#888" stroke-width="0.6"/><text transform="translate(380.5,316.9) rotate(-90)" font-family="Liberation Sans" font-size="4.1" font-weight="700" text-anchor="middle" fill="#333">Renewable Percentage</text><text x="419.1" y="355.2" font-family="Liberation Sans" font-size="4.2" font-weight="700" text-anchor="middle" fill="#333">Year</text><polyline points="390.5,337.0 393.4,336.4 396.2,335.1 399.1,335.1 401.9,332.6 404.8,331.3 407.7,330.1 410.5,326.9 413.4,325.7 416.2,324.4 419.1,323.8 422.0,319.4 424.8,316.2 427.7,315.0 430.5,312.4 433.4,308.0 436.3,307.4 439.1,303.0 442.0,300.5 444.8,294.8 447.7,289.1" fill="none" stroke="#54a24b" stroke-width="0.7" opacity="0.7"/><polyline points="390.5,323.8 393.4,321.0 396.2,322.5 399.1,325.9 401.9,324.4 404.8,324.7 407.7,325.3 410.5,325.7 413.4,321.0 416.2,322.3 419.1,321.3 422.0,323.8 424.8,319.7 427.7,319.6 430.5,317.5 433.4,315.6 436.3,314.3 439.1,313.3 442.0,312.4 444.8,310.8 447.7,309.5" fill="none" stroke="#ffbf79" stroke-width="0.7" opacity="0.8"/><polyline points="390.5,327.6 393.4,328.8 396.2,329.7 399.1,330.1 401.9,325.7 404.8,325.7 407.7,323.1 410.5,322.5 413.4,324.4 416.2,325.9 419.1,325.7 422.0,325.0 424.8,326.3 427.7,325.7 430.5,325.0 433.4,325.7 436.3,324.4 439.1,323.8 442.0,322.5 444.8,320.6 447.7,318.1" fill="none" stroke="#f2cf5b" stroke-width="0.7" opacity="0.7"/><polyline points="390.5,333.5 393.4,335.4 396.2,334.1 399.1,333.9 401.9,333.6 404.8,333.9 407.7,333.2 410.5,333.2 413.4,332.6 416.2,331.7 419.1,331.8 422.0,331.0 424.8,331.6 427.7,330.1 430.5,328.2 433.4,325.7 436.3,325.4 439.1,323.8 442.0,322.5 444.8,320.6 447.7,319.4" fill="none" stroke="#9ecae9" stroke-width="0.7" opacity="0.8"/><polyline points="390.5,333.2 393.4,334.7 396.2,333.9 399.1,333.6 401.9,334.1 404.8,333.6 407.7,332.6 410.5,334.5 413.4,333.5 416.2,332.0 419.1,332.2 422.0,330.7 424.8,329.7 427.7,328.8 430.5,328.6 433.4,327.6 436.3,326.3 439.1,324.4 442.0,323.1 444.8,321.9 447.7,320.0" fill="none" stroke="#bab0ac" stroke-width="0.7" opacity="0.8"/><text x="453.5" y="291.2" font-family="Liberation Sans" font-size="4" font-weight="700" fill="#333">Entity</text><line x1="453.5" y1="295.0" x2="456.5" y2="295.0" stroke="#54a24b" stroke-width="0.7"/><text x="458.5" y="296.0" font-family="Liberation Sans" font-size="3.20" fill="#7a7a7a">China</text><line x1="453.5" y1="298.7" x2="456.5" y2="298.7" stroke="#ffbf79" stroke-width="0.7"/><text x="458.5" y="299.7" font-family="Liberation Sans" font-size="3.20" fill="#7a7a7a">Germany</text><line x1="453.5" y1="302.4" x2="456.5" y2="302.4" stroke="#f2cf5b" stroke-width="0.7"/><text x="458.5" y="303.4" font-family="Liberation Sans" font-size="3.20" fill="#7a7a7a">India</text><line x1="453.5" y1="306.1" x2="456.5" y2="306.1" stroke="#9ecae9" stroke-width="0.7"/><text x="458.5" y="307.1" font-family="Liberation Sans" font-size="3.20" fill="#7a7a7a">Japan</text><line x1="453.5" y1="309.8" x2="456.5" y2="309.8" stroke="#bab0ac" stroke-width="0.7"/><text x="458.5" y="310.8" font-family="Liberation Sans" font-size="3.20" fill="#7a7a7a">United States</text></svg><div class="trig" style="left:342px;top:374px;width:151px;height:95px"></div><svg class="a" style="left:350.5px;top:415.7px" width="11" height="11"><use href="#robot"/></svg><div class="tc" style="left:326px;width:200px;top:377.25px"><span class="chip">Year</span><span class="x">×</span></div><div class="tc" style="left:326px;width:200px;top:391.95px"><span class="chip">Renewable Per...</span><span class="x">×</span></div><div class="tc" style="left:326px;width:200px;top:406.65px"><span class="chip">Entity</span><span class="x">×</span></div><div class="tc" style="left:326px;width:200px;top:421.35px"><span class="chip">Global Median?</span></div><div class="tc" style="left:326px;width:200px;top:436.05px">"include global median as</div><div class="tc" style="left:326px;width:200px;top:450.75px">an entity"</div><svg class="a" style="left:344px;top:471px" width="9" height="11"><path d="M4.5 0.5v9.5M1 6.5l3.5 3.5 3.5-3.5" fill="none" stroke="#555" stroke-width="1"/></svg><div class="card sel" style="left:342px;top:483.5px;width:151px;height:24.5px"></div><svg class="a" style="left:350px;top:491.1px" width="9" height="9"><use href="#tbl"/></svg><div class="nm" style="left:364px;top:489.1px">table-18</div><svg class="a" style="left:476.5px;top:489.6px" width="12" height="12"><use href="#cadd"/></svg><svg class="a" style="left:460px;top:490.1px" width="10" height="12"><use href="#trash"/></svg><div class="mini sel" style="left:363px;top:513px;width:130px;height:79px"></div><svg class="a" style="left:363px;top:513px" width="130" height="79" viewBox="363 513 130 79"><rect x="390.4" y="520" width="56.60000000000002" height="56.5" fill="none" stroke="#e8e8e8" stroke-width="0.5"/><line x1="390.4" y1="576.5" x2="447" y2="576.5" stroke="#e4e4e4" stroke-width="0.5"/><line x1="388.4" y1="576.5" x2="390.4" y2="576.5" stroke="#888" stroke-width="0.5"/><text x="387.4" y="577.7" font-family="Liberation Sans" font-size="3.6" text-anchor="end" fill="#444">0</text><line x1="390.4" y1="563.9" x2="447" y2="563.9" stroke="#e4e4e4" stroke-width="0.5"/><line x1="388.4" y1="563.9" x2="390.4" y2="563.9" stroke="#888" stroke-width="0.5"/><text x="387.4" y="565.1" font-family="Liberation Sans" font-size="3.6" text-anchor="end" fill="#444">10</text><line x1="390.4" y1="551.4" x2="447" y2="551.4" stroke="#e4e4e4" stroke-width="0.5"/><line x1="388.4" y1="551.4" x2="390.4" y2="551.4" stroke="#888" stroke-width="0.5"/><text x="387.4" y="552.6" font-family="Liberation Sans" font-size="3.6" text-anchor="end" fill="#444">20</text><line x1="390.4" y1="538.8" x2="447" y2="538.8" stroke="#e4e4e4" stroke-width="0.5"/><line x1="388.4" y1="538.8" x2="390.4" y2="538.8" stroke="#888" stroke-width="0.5"/><text x="387.4" y="540.0" font-family="Liberation Sans" font-size="3.6" text-anchor="end" fill="#444">30</text><line x1="390.4" y1="526.3" x2="447" y2="526.3" stroke="#e4e4e4" stroke-width="0.5"/><line x1="388.4" y1="526.3" x2="390.4" y2="526.3" stroke="#888" stroke-width="0.5"/><text x="387.4" y="527.5" font-family="Liberation Sans" font-size="3.6" text-anchor="end" fill="#444">40</text><text x="393.4" y="581.5" font-family="Liberation Sans" font-size="3.6" text-anchor="middle" fill="#444">2000</text><line x1="404.5" y1="520" x2="404.5" y2="576.5" stroke="#e4e4e4" stroke-width="0.5"/><text x="407.5" y="581.5" font-family="Liberation Sans" font-size="3.6" text-anchor="middle" fill="#444">2005</text><line x1="418.7" y1="520" x2="418.7" y2="576.5" stroke="#e4e4e4" stroke-width="0.5"/><text x="421.7" y="581.5" font-family="Liberation Sans" font-size="3.6" text-anchor="middle" fill="#444">2010</text><line x1="432.9" y1="520" x2="432.9" y2="576.5" stroke="#e4e4e4" stroke-width="0.5"/><text x="435.9" y="581.5" font-family="Liberation Sans" font-size="3.6" text-anchor="middle" fill="#444">2015</text><line x1="390.4" y1="520" x2="390.4" y2="576.5" stroke="#888" stroke-width="0.6"/><line x1="390.4" y1="576.5" x2="447" y2="576.5" stroke="#888" stroke-width="0.6"/><text transform="translate(380.4,548.2) rotate(-90)" font-family="Liberation Sans" font-size="4.1" font-weight="700" text-anchor="middle" fill="#333">Renewable Percentage</text><text x="418.7" y="586.5" font-family="Liberation Sans" font-size="4.2" font-weight="700" text-anchor="middle" fill="#333">Year</text><polyline points="390.4,568.3 393.2,567.7 396.1,566.5 398.9,566.5 401.7,563.9 404.5,562.7 407.4,561.4 410.2,558.3 413.0,557.0 415.9,555.8 418.7,555.2 421.5,550.8 424.4,547.6 427.2,546.4 430.0,543.9 432.9,539.5 435.7,538.8 438.5,534.4 441.3,531.9 444.2,526.3 447.0,520.6" fill="none" stroke="#9ecae9" stroke-width="0.7" opacity="0.45"/><polyline points="390.4,555.2 393.2,552.4 396.1,553.9 398.9,557.3 401.7,555.8 404.5,556.0 407.4,556.7 410.2,557.0 413.0,552.4 415.9,553.6 418.7,552.6 421.5,555.2 424.4,551.1 427.2,551.0 430.0,548.9 432.9,547.0 435.7,545.7 438.5,544.7 441.3,543.9 444.2,542.2 447.0,541.0" fill="none" stroke="#4c78a8" stroke-width="0.7" opacity="0.45"/><polyline points="390.4,558.9 393.2,560.2 396.1,561.1 398.9,561.4 401.7,557.0 404.5,557.0 407.4,554.5 410.2,553.9 413.0,555.8 415.9,557.3 418.7,557.0 421.5,556.4 424.4,557.7 427.2,557.0 430.0,556.4 432.9,557.0 435.7,555.8 438.5,555.2 441.3,553.9 444.2,552.0 447.0,549.5" fill="none" stroke="#ffbf79" stroke-width="0.7" opacity="0.45"/><polyline points="390.4,564.8 393.2,566.7 396.1,565.5 398.9,565.2 401.7,564.9 404.5,565.2 407.4,564.6 410.2,564.6 413.0,563.9 415.9,563.1 418.7,563.2 421.5,562.3 424.4,562.9 427.2,561.4 430.0,559.5 432.9,557.0 435.7,556.8 438.5,555.2 441.3,553.9 444.2,552.0 447.0,550.8" fill="none" stroke="#54a24b" stroke-width="0.7" opacity="0.45"/><polyline points="390.4,564.6 393.2,566.1 396.1,565.2 398.9,564.9 401.7,565.5 404.5,564.9 407.4,563.9 410.2,565.8 413.0,564.8 415.9,563.3 418.7,563.6 421.5,562.1 424.4,561.1 427.2,560.2 430.0,559.9 432.9,558.9 435.7,557.7 438.5,555.8 441.3,554.5 444.2,553.3 447.0,551.4" fill="none" stroke="#88d27a" stroke-width="0.7" opacity="0.45"/><polyline points="390.4,562.9 393.2,563.1 396.1,563.3 398.9,562.4 401.7,562.3 404.5,563.8 407.4,562.7 410.2,561.7 413.0,560.3 415.9,560.1 418.7,559.2 421.5,560.7 424.4,557.4 427.2,556.7 430.0,555.4 432.9,556.2 435.7,554.3 438.5,554.3 441.3,553.5 444.2,551.0 447.0,546.4" fill="none" stroke="#f58518" stroke-width="0.8" opacity="0.9"/><text x="452.5" y="523.2" font-family="Liberation Sans" font-size="4" font-weight="700" fill="#333">Entity</text><line x1="452.5" y1="527.0" x2="455.5" y2="527.0" stroke="#9ecae9" stroke-width="0.7"/><text x="457.5" y="528.0" font-family="Liberation Sans" font-size="3.20" fill="#7a7a7a">China</text><line x1="452.5" y1="530.7" x2="455.5" y2="530.7" stroke="#4c78a8" stroke-width="0.7"/><text x="457.5" y="531.7" font-family="Liberation Sans" font-size="3.20" fill="#7a7a7a">Germany</text><line x1="452.5" y1="534.4" x2="455.5" y2="534.4" stroke="#ffbf79" stroke-width="0.7"/><text x="457.5" y="535.4" font-family="Liberation Sans" font-size="3.20" fill="#7a7a7a">Global Median</text><line x1="452.5" y1="538.1" x2="455.5" y2="538.1" stroke="#54a24b" stroke-width="0.7"/><text x="457.5" y="539.1" font-family="Liberation Sans" font-size="3.20" fill="#7a7a7a">India</text><line x1="452.5" y1="541.8" x2="455.5" y2="541.8" stroke="#88d27a" stroke-width="0.7"/><text x="457.5" y="542.8" font-family="Liberation Sans" font-size="3.20" fill="#7a7a7a">Japan</text><line x1="452.5" y1="545.5" x2="455.5" y2="545.5" stroke="#f58518" stroke-width="0.7"/><text x="457.5" y="546.5" font-family="Liberation Sans" font-size="3.20" fill="#7a7a7a">United States</text><text x="452.5" y="553.4000000000001" font-family="Liberation Sans" font-size="4" font-weight="700" fill="#333">Global Median?</text><line x1="452.5" y1="557.2" x2="455.5" y2="557.2" stroke="#bbb" stroke-width="0.7"/><text x="457.5" y="558.3" font-family="Liberation Sans" font-size="3.3" fill="#555">No</text><line x1="452.5" y1="560.9" x2="455.5" y2="560.9" stroke="#bbb" stroke-width="0.7"/><text x="457.5" y="562.0" font-family="Liberation Sans" font-size="3.3" fill="#555">Yes</text></svg>
<svg class="a" style="left:510px;top:52px" width="135" height="26"><circle cx="12" cy="11.8" r="4" fill="none" stroke="#2f5e93" stroke-width="1.3"/><path d="M14.8 14.6l3.5 3.5" stroke="#2f5e93" stroke-width="1.5"/><path d="M10.3 11.8h3.4" stroke="#5b86b8" stroke-width="1.1"/><rect x="32" y="11.8" width="68" height="2.8" rx="1.4" fill="#a6c4e6"/><rect x="32" y="11.4" width="24" height="3.6" rx="1.8" fill="#1f6fc5"/><circle cx="56.8" cy="13.1" r="7.6" fill="#1f6fc5"/><circle cx="117.5" cy="11.8" r="4" fill="none" stroke="#2f5e93" stroke-width="1.3"/><path d="M120.3 14.6l3.5 3.5" stroke="#2f5e93" stroke-width="1.5"/><path d="M115.8 11.8h3.4M117.5 10.1v3.4" stroke="#3d6ba3" stroke-width="1.1"/></svg>
<svg class="a" style="left:0;top:0" width="1000" height="430"><line x1="689.8" y1="387.2" x2="853.5" y2="387.2" stroke="#e3e3e3" stroke-width="0.8"/><line x1="685.8" y1="387.2" x2="689.8" y2="387.2" stroke="#888" stroke-width="0.8"/><text x="683.8" y="390.2" font-family="Liberation Sans" font-size="8.3" text-anchor="end" fill="#222">0</text><line x1="689.8" y1="350.8" x2="853.5" y2="350.8" stroke="#e3e3e3" stroke-width="0.8"/><line x1="685.8" y1="350.8" x2="689.8" y2="350.8" stroke="#888" stroke-width="0.8"/><text x="683.8" y="353.8" font-family="Liberation Sans" font-size="8.3" text-anchor="end" fill="#222">10</text><line x1="689.8" y1="314.4" x2="853.5" y2="314.4" stroke="#e3e3e3" stroke-width="0.8"/><line x1="685.8" y1="314.4" x2="689.8" y2="314.4" stroke="#888" stroke-width="0.8"/><text x="683.8" y="317.4" font-family="Liberation Sans" font-size="8.3" text-anchor="end" fill="#222">20</text><line x1="689.8" y1="278.0" x2="853.5" y2="278.0" stroke="#e3e3e3" stroke-width="0.8"/><line x1="685.8" y1="278.0" x2="689.8" y2="278.0" stroke="#888" stroke-width="0.8"/><text x="683.8" y="281.0" font-family="Liberation Sans" font-size="8.3" text-anchor="end" fill="#222">30</text><line x1="689.8" y1="241.6" x2="853.5" y2="241.6" stroke="#e3e3e3" stroke-width="0.8"/><line x1="685.8" y1="241.6" x2="689.8" y2="241.6" stroke="#888" stroke-width="0.8"/><text x="683.8" y="244.6" font-family="Liberation Sans" font-size="8.3" text-anchor="end" fill="#222">40</text><line x1="689.8" y1="223.6" x2="689.8" y2="387.2" stroke="#e3e3e3" stroke-width="0.8"/><line x1="689.8" y1="387.2" x2="689.8" y2="391.2" stroke="#888" stroke-width="0.8"/><line x1="730.6" y1="223.6" x2="730.6" y2="387.2" stroke="#e3e3e3" stroke-width="0.8"/><line x1="730.6" y1="387.2" x2="730.6" y2="391.2" stroke="#888" stroke-width="0.8"/><line x1="771.4" y1="223.6" x2="771.4" y2="387.2" stroke="#e3e3e3" stroke-width="0.8"/><line x1="771.4" y1="387.2" x2="771.4" y2="391.2" stroke="#888" stroke-width="0.8"/><line x1="812.2" y1="223.6" x2="812.2" y2="387.2" stroke="#e3e3e3" stroke-width="0.8"/><line x1="812.2" y1="387.2" x2="812.2" y2="391.2" stroke="#888" stroke-width="0.8"/><text x="698.6" y="400" font-family="Liberation Sans" font-size="8.3" text-anchor="middle" fill="#222">2000</text><text x="730.6" y="400" font-family="Liberation Sans" font-size="8.3" text-anchor="middle" fill="#222">2005</text><text x="771.6" y="400" font-family="Liberation Sans" font-size="8.3" text-anchor="middle" fill="#222">2010</text><text x="812.6" y="400" font-family="Liberation Sans" font-size="8.3" text-anchor="middle" fill="#222">2015</text><rect x="689.8" y="223.6" width="163.70000000000005" height="163.6" fill="none" stroke="#e3e3e3" stroke-width="0.8"/><line x1="689.8" y1="223.6" x2="689.8" y2="387.2" stroke="#888" stroke-width="0.8"/><line x1="689.8" y1="387.2" x2="853.5" y2="387.2" stroke="#888" stroke-width="0.8"/><text x="771.5" y="411.5" font-family="Liberation Sans" font-size="9" font-weight="700" text-anchor="middle" fill="#222">Year</text><text transform="translate(670.5,306) rotate(-90)" x="0" y="0" font-family="Liberation Sans" font-size="9" font-weight="700" text-anchor="middle" fill="#222">Renewable Percentage</text><polyline points="689.8,363.5 698.0,361.7 706.1,358.1 714.3,358.1 722.4,350.8 730.6,347.2 738.8,343.5 746.9,334.4 755.1,330.8 763.2,327.1 771.4,325.3 779.6,312.6 787.7,303.5 795.9,299.8 804.0,292.6 812.2,279.8 820.4,278.0 828.5,265.3 836.7,258.0 844.8,241.6 853.0,225.2" fill="none" stroke="#9ecae9" stroke-width="1.6" opacity="0.3"/><polyline points="689.8,325.3 698.0,317.3 706.1,321.7 714.3,331.5 722.4,327.1 730.6,327.9 738.8,329.7 746.9,330.8 755.1,317.3 763.2,321.0 771.4,318.0 779.6,325.3 787.7,313.7 795.9,313.3 804.0,307.1 812.2,301.7 820.4,298.0 828.5,295.1 836.7,292.6 844.8,287.8 853.0,284.2" fill="none" stroke="#4c78a8" stroke-width="1.6" opacity="0.35"/><polyline points="689.8,336.2 698.0,339.9 706.1,342.4 714.3,343.5 722.4,330.8 730.6,330.8 738.8,323.5 746.9,321.7 755.1,327.1 763.2,331.5 771.4,330.8 779.6,329.0 787.7,332.6 795.9,330.8 804.0,329.0 812.2,330.8 820.4,327.1 828.5,325.3 836.7,321.7 844.8,316.2 853.0,308.9" fill="none" stroke="#ffbf79" stroke-width="1.6" opacity="0.35"/><polyline points="689.8,353.3 698.0,358.8 706.1,355.2 714.3,354.4 722.4,353.7 730.6,354.4 738.8,352.6 746.9,352.6 755.1,350.8 763.2,348.3 771.4,348.6 779.6,346.1 787.7,347.9 795.9,343.5 804.0,338.1 812.2,330.8 820.4,330.1 828.5,325.3 836.7,321.7 844.8,316.2 853.0,312.6" fill="none" stroke="#54a24b" stroke-width="1.6" opacity="0.3"/><polyline points="689.8,352.6 698.0,357.0 706.1,354.4 714.3,353.7 722.4,355.2 730.6,353.7 738.8,350.8 746.9,356.3 755.1,353.3 763.2,349.0 771.4,349.7 779.6,345.3 787.7,342.4 795.9,339.9 804.0,339.2 812.2,336.2 820.4,332.6 828.5,327.1 836.7,323.5 844.8,319.9 853.0,314.4" fill="none" stroke="#88d27a" stroke-width="1.6" opacity="0.35"/><polyline points="689.8,347.9 698.0,348.3 706.1,349.0 714.3,346.4 722.4,346.1 730.6,350.4 738.8,347.2 746.9,344.2 755.1,340.2 763.2,339.5 771.4,337.0 779.6,341.3 787.7,331.9 795.9,329.7 804.0,326.0 812.2,328.2 820.4,322.8 828.5,322.8 836.7,320.6 844.8,313.3 853.0,299.8" fill="none" stroke="#f58518" stroke-width="1.6" opacity="1"/><text x="869.5" y="231" font-family="Liberation Sans" font-size="8.6" font-weight="700" fill="#222">Entity</text><line x1="870" y1="241.2" x2="878" y2="241.2" stroke="#4c78a8" stroke-width="1.5"/><text x="882" y="244.0" font-family="Liberation Sans" font-size="8.05" fill="#222">China</text><line x1="870" y1="251.8" x2="878" y2="251.8" stroke="#9ecae9" stroke-width="1.5"/><text x="882" y="254.6" font-family="Liberation Sans" font-size="8.05" fill="#222">Germany</text><line x1="870" y1="262.4" x2="878" y2="262.4" stroke="#f58518" stroke-width="1.5"/><text x="882" y="265.2" font-family="Liberation Sans" font-size="8.05" fill="#222">Global Median</text><line x1="870" y1="273.0" x2="878" y2="273.0" stroke="#ffbf79" stroke-width="1.5"/><text x="882" y="275.8" font-family="Liberation Sans" font-size="8.05" fill="#222">India</text><line x1="870" y1="283.6" x2="878" y2="283.6" stroke="#54a24b" stroke-width="1.5"/><text x="882" y="286.4" font-family="Liberation Sans" font-size="8.05" fill="#222">Japan</text><line x1="870" y1="294.2" x2="878" y2="294.2" stroke="#88d27a" stroke-width="1.5"/><text x="882" y="297.0" font-family="Liberation Sans" font-size="8.05" fill="#222">United States</text><text x="869.5" y="312.7" font-family="Liberation Sans" font-size="8.85" font-weight="700" fill="#222">Global Median?</text><line x1="870" y1="322.9" x2="878" y2="322.9" stroke="#dcdcdc" stroke-width="1.5"/><text x="882" y="325.7" font-family="Liberation Sans" font-size="8.05" fill="#222">No</text><line x1="870" y1="333.1" x2="878" y2="333.1" stroke="#999" stroke-width="1.5"/><text x="882" y="335.9" font-family="Liberation Sans" font-size="8.05" fill="#222">Yes</text><circle cx="959.5" cy="231" r="10.5" fill="#fff" stroke="#e0e0e0" stroke-width="1"/><g fill="#aaa"><circle cx="955.5" cy="231" r="1"/><circle cx="959.5" cy="231" r="1"/><circle cx="963.5" cy="231" r="1"/></g></svg><div class="t" style="left:684.5px;top:438px;font-size:10.6px;line-height:13px;color:#222">data: table-18</div><svg class="a" style="left:760px;top:434px" width="180" height="22">
 <g fill="none" stroke="#1f6fc5" stroke-width="1.6"><rect x="3.3" y="4.3" width="15" height="11.5" rx="1"/></g>
 <path d="M6.5 8.5l2.5 2-2.5 2" fill="none" stroke="#1f6fc5" stroke-width="1.3"/><path d="M10.5 13h4" stroke="#1f6fc5" stroke-width="1.3"/>
 <path d="M31.5 3.5h8l4 4v9.5h-12z" fill="#1f6fc5"/><path d="M34 9.5h7M34 12.5h7" stroke="#fff" stroke-width="1.4"/>
 <line x1="59" y1="5" x2="59" y2="17" stroke="#e0e0e0" stroke-width="1"/>
 <path d="M68 3.5h11v8h-8l-3 3z" fill="#1f6fc5"/><path d="M81 6.5h3v11l-3-3h-8v-2h8z" fill="#1f6fc5"/>
 <line x1="97" y1="5" x2="97" y2="17" stroke="#e0e0e0" stroke-width="1"/>
 <path d="M115 3.5l2.1 4.6 5 0.5-3.8 3.3 1.1 4.9-4.4-2.6-4.4 2.6 1.1-4.9-3.8-3.3 5-0.5z" fill="none" stroke="#1f6fc5" stroke-width="1.4"/>
 <path d="M136.5 15.5V4h8" fill="none" stroke="#1f6fc5" stroke-width="1.5"/><rect x="139.5" y="6.5" width="9.5" height="12" rx="1" fill="none" stroke="#1f6fc5" stroke-width="1.5"/>
 <path d="M164.5 5.5h12v1.8h-12z M167.5 4h6v1.7h-6z" fill="#e8700f"/><path d="M165.7 8h9.6l-0.9 10h-7.8z" fill="#e8700f"/>
</svg>
<div class="dash" style="left:1157.5px;top:62px;height:262px;border-color:#b0b0b0"></div><svg class="a" style="left:1152px;top:53.0px" width="9" height="9"><use href="#tblb"/></svg><div class="lk" style="left:1162.4px;top:51.0px">energy.csv</div><svg class="a" style="left:1152px;top:115.10000000000001px" width="9" height="9"><use href="#tblb"/></svg><div class="lk" style="left:1162.4px;top:113.10000000000001px">table-42</div><svg class="a" style="left:1152px;top:177.1px" width="9" height="9"><use href="#tblb"/></svg><div class="lk" style="left:1162.4px;top:175.1px">table-77</div><svg class="a" style="left:1152px;top:297.7px" width="9" height="9"><use href="#tblb"/></svg><div class="lk" style="left:1162.4px;top:295.7px">table-18</div><div class="trig" style="left:1167px;top:70px;width:175px;height:36.5px;background:#fbf4ef"></div><svg class="a" style="left:1175px;top:83.25px" width="10" height="10"><use href="#robot"/></svg><div class="tc" style="left:1153px;width:220px;top:73.55px"><span class="chip">Year</span><span class="x">×</span><span class="chip">Renewable Per...</span><span class="x">×</span></div><div class="tc" style="left:1153px;width:220px;top:88.3px"><span class="chip">Entity</span></div><div class="trig" style="left:1167px;top:132px;width:175px;height:37px;background:#fbf4ef"></div><svg class="a" style="left:1175px;top:145.5px" width="10" height="10"><use href="#robot"/></svg><div class="tc" style="left:1153px;width:220px;top:135.95px">"show only top 5 CO2 emission</div><div class="tc" style="left:1153px;width:220px;top:150.7px">countries' trends"</div><div class="trig" style="left:1167px;top:193.5px;width:146.5px;height:95.5px;background:#fbf4ef"></div><svg class="a" style="left:1175px;top:236.25px" width="10" height="10"><use href="#robot"/></svg><div class="tc" style="left:1139px;width:220px;top:197.75px"><span class="chip">Year</span><span class="x">×</span></div><div class="tc" style="left:1139px;width:220px;top:212.5px"><span class="chip">Renewable Per...</span><span class="x">×</span></div><div class="tc" style="left:1139px;width:220px;top:227.25px"><span class="chip">Entity</span><span class="x">×</span></div><div class="tc" style="left:1139px;width:220px;top:242.0px"><span class="chip">Global Median?</span></div><div class="tc" style="left:1139px;width:220px;top:256.75px">"include global median as</div><div class="tc" style="left:1139px;width:220px;top:271.5px">an entity"</div><svg class="a" style="left:1322px;top:234px" width="16" height="16"><circle cx="8" cy="8" r="6.3" fill="none" stroke="#e8770f" stroke-width="1.5"/><path d="M5 9.2a3.2 3.2 0 0 1 5.3-3.3M11 6.8a3.2 3.2 0 0 1-5.3 3.3" fill="none" stroke="#e8770f" stroke-width="1.2"/><path d="M9.6 4.5l1.3 1.8-2 0.6z M6.4 11.5l-1.3-1.8 2-0.6z" fill="#e8770f"/></svg>
<svg class="a" style="left:1130px;top:331px" width="10" height="12"><path d="M2.5 1.5 L7 6 L2.5 10.5" fill="none" stroke="#2266b8" stroke-width="1.6"/></svg><div class="a" style="left:1151.4px;top:323.8px;width:192px;height:287px;border:1px solid #e6e6e6;border-radius:5px;background:#fff"></div><svg class="a" style="left:1162px;top:334px" width="18" height="13"><path d="M1.5 7 L5 11 L12 3 L16.5 7.5" fill="none" stroke="#b0b0b0" stroke-width="1"/></svg><div class="t" style="left:1192.6px;top:334.5px;font-size:9.9px;line-height:12px;color:#333">Custom Line</div><div class="a" style="left:1323px;top:340.5px;width:0;height:0;border-left:3.5px solid transparent;border-right:3.5px solid transparent;border-top:4px solid #555"></div><div class="a" style="left:1158.4px;top:353.3px;width:177px;height:1.6px;background:#b9b9b9"></div><div class="a" style="left:1161.5px;top:364.5px;width:52px;height:20.5px;border:1px solid #e3e3e3;border-right:none;border-radius:4px 0 0 4px;background:#fff"></div><div class="t" style="left:1166.4px;top:368.8px;font-size:9.8px;line-height:12px;color:#777">x-axis</div><div class="a" style="left:1203.5px;top:374.0px;width:0;height:0;border-left:3px solid transparent;border-right:3px solid transparent;border-top:3px solid #666"></div><div class="a" style="left:1213.3px;top:364.5px;width:121.6px;height:20.5px;border:1px solid #e3e3e3;border-radius:0 4px 4px 0;background:#edf4fb"></div><svg class="a" style="left:1217px;top:369.5px" width="11.5" height="10"><use href="#n123"/></svg><div class="t" style="left:1231.2px;top:368.0px;font-size:10.5px;line-height:13px;color:#222">Year</div><svg class="a" style="left:1320.5px;top:369.3px" width="11" height="11"><circle cx="5.5" cy="5.5" r="4.5" fill="#c9c9c9"/><path d="M3.7 3.7l3.6 3.6M7.3 3.7l-3.6 3.6" stroke="#fff" stroke-width="1.1"/></svg><div class="a" style="left:1161.5px;top:389.4px;width:52px;height:20.5px;border:1px solid #e3e3e3;border-right:none;border-radius:4px 0 0 4px;background:#fff"></div><div class="t" style="left:1166.4px;top:393.7px;font-size:9.8px;line-height:12px;color:#777">y-axis</div><div class="a" style="left:1203.5px;top:398.9px;width:0;height:0;border-left:3px solid transparent;border-right:3px solid transparent;border-top:3px solid #666"></div><div class="a" style="left:1213.3px;top:389.4px;width:121.6px;height:20.5px;border:1px solid #e3e3e3;border-radius:0 4px 4px 0;background:#fdf6f1"></div><svg class="a" style="left:1217px;top:394.4px" width="11.5" height="10"><use href="#n123"/></svg><div class="t" style="left:1231.2px;top:392.9px;font-size:10.5px;line-height:13px;color:#222">Renewable Per...</div><svg class="a" style="left:1320.5px;top:394.2px" width="11" height="11"><circle cx="5.5" cy="5.5" r="4.5" fill="#c9c9c9"/><path d="M3.7 3.7l3.6 3.6M7.3 3.7l-3.6 3.6" stroke="#fff" stroke-width="1.1"/></svg><div class="a" style="left:1161.5px;top:413.8px;width:52px;height:20.5px;border:1px solid #e3e3e3;border-right:none;border-radius:4px 0 0 4px;background:#fff"></div><div class="t" style="left:1166.4px;top:418.1px;font-size:9.8px;line-height:12px;color:#777">detail</div><div class="a" style="left:1203.5px;top:423.3px;width:0;height:0;border-left:3px solid transparent;border-right:3px solid transparent;border-top:3px solid #666"></div><div class="a" style="left:1213.3px;top:413.8px;width:121.6px;height:20.5px;border:1px solid #e3e3e3;border-bottom:1.6px solid #a9a9a9;border-radius:0 4px 4px 0;background:#fff"></div><div class="t" style="left:1161.5px;top:441px;font-size:7.6px;line-height:9px;color:#999">legends</div><div class="a" style="left:1161.5px;top:453.8px;width:52px;height:20.5px;border:1px solid #e3e3e3;border-right:none;border-radius:4px 0 0 4px;background:#fff"></div><div class="t" style="left:1166.4px;top:458.1px;font-size:9.8px;line-height:12px;color:#777">color</div><div class="a" style="left:1203.5px;top:463.3px;width:0;height:0;border-left:3px solid transparent;border-right:3px solid transparent;border-top:3px solid #666"></div><div class="a" style="left:1213.3px;top:453.8px;width:121.6px;height:20.5px;border:1px solid #e3e3e3;border-radius:0 4px 4px 0;background:#edf4fb"></div><svg class="a" style="left:1217px;top:458.8px" width="11.5" height="10"><use href="#abc"/></svg><div class="t" style="left:1231.2px;top:457.3px;font-size:10.5px;line-height:13px;color:#222">Entity</div><svg class="a" style="left:1320.5px;top:458.6px" width="11" height="11"><circle cx="5.5" cy="5.5" r="4.5" fill="#c9c9c9"/><path d="M3.7 3.7l3.6 3.6M7.3 3.7l-3.6 3.6" stroke="#fff" stroke-width="1.1"/></svg><div class="a" style="left:1161.5px;top:478.6px;width:52px;height:20.5px;border:1px solid #e3e3e3;border-right:none;border-radius:4px 0 0 4px;background:#fff"></div><div class="t" style="left:1166.4px;top:482.90000000000003px;font-size:9.8px;line-height:12px;color:#777">opacity</div><div class="a" style="left:1203.5px;top:488.1px;width:0;height:0;border-left:3px solid transparent;border-right:3px solid transparent;border-top:3px solid #666"></div><div class="a" style="left:1213.3px;top:478.6px;width:121.6px;height:20.5px;border:1px solid #e3e3e3;border-radius:0 4px 4px 0;background:#fdf6f1"></div><svg class="a" style="left:1217px;top:483.6px" width="11.5" height="10"><use href="#abc"/></svg><div class="t" style="left:1231.2px;top:482.1px;font-size:10.5px;line-height:13px;color:#222">Global Median?</div><svg class="a" style="left:1320.5px;top:483.40000000000003px" width="11" height="11"><circle cx="5.5" cy="5.5" r="4.5" fill="#c9c9c9"/><path d="M3.7 3.7l3.6 3.6M7.3 3.7l-3.6 3.6" stroke="#fff" stroke-width="1.1"/></svg><div class="t" style="left:1161.5px;top:505.5px;font-size:7.6px;line-height:9px;color:#999">facets</div><div class="a" style="left:1161.5px;top:518.4px;width:52px;height:20.5px;border:1px solid #e3e3e3;border-right:none;border-radius:4px 0 0 4px;background:#fff"></div><div class="t" style="left:1166.4px;top:522.6999999999999px;font-size:9.8px;line-height:12px;color:#777">column</div><div class="a" style="left:1203.5px;top:527.9px;width:0;height:0;border-left:3px solid transparent;border-right:3px solid transparent;border-top:3px solid #666"></div><div class="a" style="left:1213.3px;top:518.4px;width:121.6px;height:20.5px;border:1px solid #e3e3e3;border-bottom:1.6px solid #a9a9a9;border-radius:0 4px 4px 0;background:#fff"></div><div class="a" style="left:1161.5px;top:542.4px;width:52px;height:20.5px;border:1px solid #e3e3e3;border-right:none;border-radius:4px 0 0 4px;background:#fff"></div><div class="t" style="left:1166.4px;top:546.6999999999999px;font-size:9.8px;line-height:12px;color:#777">row</div><div class="a" style="left:1203.5px;top:551.9px;width:0;height:0;border-left:3px solid transparent;border-right:3px solid transparent;border-top:3px solid #666"></div><div class="a" style="left:1213.3px;top:542.4px;width:121.6px;height:20.5px;border:1px solid #e3e3e3;border-bottom:1.6px solid #a9a9a9;border-radius:0 4px 4px 0;background:#fff"></div><div class="t" style="left:1161.5px;top:576px;font-size:9px;line-height:11px;color:#aaa">formulate data</div><div class="a" style="left:1161px;top:594.3px;width:139px;height:1.3px;background:#bdbdbd"></div><svg class="a" style="left:1309px;top:580.5px" width="15" height="15"><use href="#robotb"/></svg>
<div class="t" style="left:1359.8px;top:58px;font-size:11.35px;line-height:14px;color:#666">Data Fields</div><div class="t" style="left:1527.7px;top:58px;font-size:11.1px;line-height:14px;color:#ef9a78">new</div><svg class="a" style="left:1555.5px;top:58px" width="14" height="14"><circle cx="6.8" cy="6.9" r="6" fill="#ee8b60"/><path d="M6.8 3.8v6.2M3.7 6.9h6.2" stroke="#fff" stroke-width="1.6"/></svg><div class="secl" style="left:1359.8px;top:86px;width:13.100000000000136px"></div><div class="secl" style="left:1440.5px;top:86px;width:131.0999999999999px"></div><div class="sec" style="left:1381.9px;top:81px">field operators</div><div class="op" style="left:1361.9px;top:94.8px;width:99.29999999999995px;height:23.5px"><div class="fbar" style="width:6px"></div><span style="left:11.7px;top:5.5px;font-size:10.4px">count</span></div><div class="op" style="left:1468.1px;top:94.8px;width:100.70000000000005px;height:23.5px"><div class="fbar" style="width:6px"></div><span style="left:11.7px;top:5.5px;font-size:10.4px">sum</span></div><div class="op" style="left:1361.9px;top:124px;width:99.29999999999995px;height:23.5px"><div class="fbar" style="width:6px"></div><span style="left:11.7px;top:5.5px;font-size:10.4px">average</span></div><div class="op" style="left:1468.1px;top:124px;width:100.70000000000005px;height:23.5px"><div class="fbar" style="width:6px"></div><span style="left:11.7px;top:5.5px;font-size:10.4px">median</span></div><div class="op" style="left:1361.9px;top:153.3px;width:99.29999999999995px;height:23.5px"><div class="fbar" style="width:6px"></div><span style="left:11.7px;top:5.5px;font-size:10.4px">bin</span></div><div class="secl" style="left:1359.8px;top:186.5px;width:16.200000000000045px"></div><div class="secl" style="left:1428px;top:186.5px;width:143.5999999999999px"></div><div class="sec" style="left:1383.4px;top:181.5px">new fields</div><div class="secl" style="left:1359.8px;top:363px;width:16.200000000000045px"></div><div class="secl" style="left:1432px;top:363px;width:139.5999999999999px"></div><div class="sec" style="left:1382.8px;top:358px">energy.csv</div><div class="a" style="left:1361.9px;top:195.3px;width:206.9px;height:23.5px;opacity:1"><div class="a" style="left:0;top:0;width:206.9px;height:23.5px;background:#fdf6f2;border-radius:4px"></div><div class="a" style="left:0;top:0;width:6.2px;height:23.5px;background:#f39063;border-radius:4px 0 0 4px"></div><svg class="a" style="left:10.6px;top:6.6px" width="12" height="10.5" viewBox="0 0 12 10"><use href="#abcb"/></svg><div class="t" style="left:25.1px;top:5.3px;font-size:10.55px;line-height:13px;color:#222">Global Median?</div><div class="t" style="left:104.4912109375px;top:8px;font-size:7.3px;line-height:9px;font-style:italic;color:#aaa">-- String</div></div><div class="a" style="left:1361.9px;top:222.2px;width:206.9px;height:23.5px;opacity:0.38"><div class="a" style="left:0;top:0;width:206.9px;height:23.5px;background:#fdf6f2;border-radius:4px"></div><div class="a" style="left:0;top:0;width:6.2px;height:23.5px;background:#f39063;border-radius:4px 0 0 4px"></div><svg class="a" style="left:10.6px;top:6.6px" width="12" height="10.5" viewBox="0 0 12 10"><use href="#n123b"/></svg><div class="t" style="left:25.1px;top:5.3px;font-size:10.55px;line-height:13px;color:#222">Rank</div><div class="t" style="left:55.22765625px;top:8px;font-size:7.3px;line-height:9px;font-style:italic;color:#aaa">-- Number</div></div><div class="a" style="left:1361.9px;top:249.1px;width:206.9px;height:23.5px;opacity:1"><div class="a" style="left:0;top:0;width:206.9px;height:23.5px;background:#fdf6f2;border-radius:4px"></div><div class="a" style="left:0;top:0;width:6.2px;height:23.5px;background:#f39063;border-radius:4px 0 0 4px"></div><svg class="a" style="left:10.6px;top:6.6px" width="12" height="10.5" viewBox="0 0 12 10"><use href="#n123b"/></svg><div class="t" style="left:25.1px;top:5.3px;font-size:10.55px;line-height:13px;color:#222">Renewable Percentage</div><div class="t" style="left:140.270546875px;top:8px;font-size:7.3px;line-height:9px;font-style:italic;color:#aaa">-- Percentage</div></div><div class="a" style="left:1361.9px;top:276.0px;width:206.9px;height:23.5px;opacity:0.38"><div class="a" style="left:0;top:0;width:206.9px;height:23.5px;background:#fdf6f2;border-radius:4px"></div><div class="a" style="left:0;top:0;width:6.2px;height:23.5px;background:#f39063;border-radius:4px 0 0 4px"></div><svg class="a" style="left:11px;top:7px" width="10" height="10"><path d="M1 9L7 3" stroke="#5a8fd0" stroke-width="1.3"/><path d="M7.5 0.5v2M8.5 1.5h2M6.5 1.5h-1" stroke="#5a8fd0" stroke-width="0.8"/></svg><div class="t" style="left:25.1px;top:5.3px;font-size:10.55px;line-height:13px;color:#222">Energy Soure</div></div><div class="a" style="left:1361.9px;top:302.9px;width:206.9px;height:23.5px;opacity:0.38"><div class="a" style="left:0;top:0;width:206.9px;height:23.5px;background:#fdf6f2;border-radius:4px"></div><div class="a" style="left:0;top:0;width:6.2px;height:23.5px;background:#f39063;border-radius:4px 0 0 4px"></div><svg class="a" style="left:10.6px;top:6.6px" width="12" height="10.5" viewBox="0 0 12 10"><use href="#abcb"/></svg><div class="t" style="left:25.1px;top:5.3px;font-size:10.55px;line-height:13px;color:#222">Energy Source</div><div class="t" style="left:100.38165624999999px;top:8px;font-size:7.3px;line-height:9px;font-style:italic;color:#aaa">-- String</div></div><div class="a" style="left:1361.9px;top:329.8px;width:206.9px;height:23.5px;opacity:0.38"><div class="a" style="left:0;top:0;width:206.9px;height:23.5px;background:#fdf6f2;border-radius:4px"></div><div class="a" style="left:0;top:0;width:6.2px;height:23.5px;background:#f39063;border-radius:4px 0 0 4px"></div><svg class="a" style="left:10.6px;top:6.6px" width="12" height="10.5" viewBox="0 0 12 10"><use href="#n123b"/></svg><div class="t" style="left:25.1px;top:5.3px;font-size:10.55px;line-height:13px;color:#222">Electricity</div><div class="t" style="left:75.7358671875px;top:8px;font-size:7.3px;line-height:9px;font-style:italic;color:#aaa">-- Number</div></div><div class="a" style="left:1361.9px;top:371.9px;width:206.9px;height:23.5px;opacity:1"><div class="a" style="left:0;top:0;width:206.9px;height:23.5px;background:#eef4fa;border-radius:4px"></div><div class="a" style="left:0;top:0;width:6.2px;height:23.5px;background:#3d7fcf;border-radius:4px 0 0 4px"></div><svg class="a" style="left:10.6px;top:6.6px" width="12" height="10.5" viewBox="0 0 12 10"><use href="#n123b"/></svg><div class="t" style="left:25.1px;top:5.3px;font-size:10.55px;line-height:13px;color:#222">Year</div><div class="t" style="left:51.9159453125px;top:8px;font-size:7.3px;line-height:9px;font-style:italic;color:#aaa">-- Year</div></div><div class="a" style="left:1361.9px;top:398.8px;width:206.9px;height:23.5px;opacity:1"><div class="a" style="left:0;top:0;width:206.9px;height:23.5px;background:#eef4fa;border-radius:4px"></div><div class="a" style="left:0;top:0;width:6.2px;height:23.5px;background:#3d7fcf;border-radius:4px 0 0 4px"></div><svg class="a" style="left:10.6px;top:6.6px" width="12" height="10.5" viewBox="0 0 12 10"><use href="#abcb"/></svg><div class="t" style="left:25.1px;top:5.3px;font-size:10.55px;line-height:13px;color:#222">Entity</div><div class="t" style="left:56.984890625000006px;top:8px;font-size:7.3px;line-height:9px;font-style:italic;color:#aaa">-- Location</div></div><div class="a" style="left:1361.9px;top:425.7px;width:206.9px;height:23.5px;opacity:0.38"><div class="a" style="left:0;top:0;width:206.9px;height:23.5px;background:#eef4fa;border-radius:4px"></div><div class="a" style="left:0;top:0;width:6.2px;height:23.5px;background:#3d7fcf;border-radius:4px 0 0 4px"></div><svg class="a" style="left:10.6px;top:6.6px" width="12" height="10.5" viewBox="0 0 12 10"><use href="#n123b"/></svg><div class="t" style="left:25.1px;top:5.3px;font-size:10.55px;line-height:13px;color:#222">Value_co2_emissions_kt_by...</div><div class="t" style="left:172.53316406250002px;top:3px;font-size:7.3px;line-height:9px;font-style:italic;color:#aaa">--</div><div class="t" style="left:172.53316406250002px;top:12.5px;font-size:7.3px;line-height:9px;font-style:italic;color:#aaa">Number</div></div><div class="a" style="left:1361.9px;top:452.6px;width:206.9px;height:23.5px;opacity:0.38"><div class="a" style="left:0;top:0;width:206.9px;height:23.5px;background:#eef4fa;border-radius:4px"></div><div class="a" style="left:0;top:0;width:6.2px;height:23.5px;background:#3d7fcf;border-radius:4px 0 0 4px"></div><svg class="a" style="left:10.6px;top:6.6px" width="12" height="10.5" viewBox="0 0 12 10"><use href="#n123b"/></svg><div class="t" style="left:25.1px;top:5.3px;font-size:10.55px;line-height:13px;color:#222">Electricity from fossil fuels (...</div><div class="t" style="left:168.1829375px;top:3px;font-size:7.3px;line-height:9px;font-style:italic;color:#aaa">--</div><div class="t" style="left:168.1829375px;top:12.5px;font-size:7.3px;line-height:9px;font-style:italic;color:#aaa">Number</div></div><div class="a" style="left:1361.9px;top:479.5px;width:206.9px;height:23.5px;opacity:0.38"><div class="a" style="left:0;top:0;width:206.9px;height:23.5px;background:#eef4fa;border-radius:4px"></div><div class="a" style="left:0;top:0;width:6.2px;height:23.5px;background:#3d7fcf;border-radius:4px 0 0 4px"></div><svg class="a" style="left:10.6px;top:6.6px" width="12" height="10.5" viewBox="0 0 12 10"><use href="#n123b"/></svg><div class="t" style="left:25.1px;top:5.3px;font-size:10.55px;line-height:13px;color:#222">Electricity from nuclear (T...</div><div class="t" style="left:158.806625px;top:3px;font-size:7.3px;line-height:9px;font-style:italic;color:#aaa">--</div><div class="t" style="left:158.806625px;top:12.5px;font-size:7.3px;line-height:9px;font-style:italic;color:#aaa">Number</div></div><div class="a" style="left:1361.9px;top:506.4px;width:206.9px;height:23.5px;opacity:0.38"><div class="a" style="left:0;top:0;width:206.9px;height:23.5px;background:#eef4fa;border-radius:4px"></div><div class="a" style="left:0;top:0;width:6.2px;height:23.5px;background:#3d7fcf;border-radius:4px 0 0 4px"></div><svg class="a" style="left:10.6px;top:6.6px" width="12" height="10.5" viewBox="0 0 12 10"><use href="#n123b"/></svg><div class="t" style="left:25.1px;top:5.3px;font-size:10.55px;line-height:13px;color:#222">Electricity from renewables ...</div><div class="t" style="left:169.3714609375px;top:3px;font-size:7.3px;line-height:9px;font-style:italic;color:#aaa">--</div><div class="t" style="left:169.3714609375px;top:12.5px;font-size:7.3px;line-height:9px;font-style:italic;color:#aaa">Number</div></div>
<div class="a" style="left:0;top:0;width:1595px;height:789px;overflow:hidden"><div class="a" style="left:503.5px;top:627px;width:846.5px;height:162px;background:#fdfdfd;border-top:1px solid #dcdcdc"></div><div class="t" style="left:514.3px;top:632.5px;font-size:9.8px;line-height:12px;color:#2a6ac0;">energy.csv</div><div class="t" style="left:592px;top:632.5px;font-size:9.8px;line-height:12px;color:#2a6ac0;">table-49</div><div class="t" style="left:643px;top:632.5px;font-size:9.8px;line-height:12px;color:#2a6ac0;">table-42</div><div class="t" style="left:695px;top:632.5px;font-size:9.8px;line-height:12px;color:#2a6ac0;">table-86</div><div class="t" style="left:747px;top:632.5px;font-size:9.8px;line-height:12px;color:#2a6ac0;">table-77</div><div class="t" style="left:799px;top:632.5px;font-size:9.8px;line-height:12px;color:#2a6ac0;font-weight:700;">table-18</div><div class="a" style="left:635px;top:638px;width:1.5px;height:1.5px;background:#bbb"></div><div class="a" style="left:686.5px;top:638px;width:1.5px;height:1.5px;background:#bbb"></div><div class="a" style="left:738.5px;top:638px;width:1.5px;height:1.5px;background:#bbb"></div><div class="a" style="left:790px;top:638px;width:1.5px;height:1.5px;background:#bbb"></div><svg class="a" style="left:572px;top:632px" width="9" height="12"><path d="M4.5 0.5 L8 5 H6 L8.5 8.5 H5.3 V11 H3.7 V8.5 H0.5 L3 5 H1 Z" fill="#aaa"/></svg><div class="a" style="left:504px;top:649.5px;width:111px;height:37px;background:#fff"></div><div class="a" style="left:504px;top:685.3px;width:111px;height:2.2px;background:#3a73b5"></div><svg class="a" style="left:511.8px;top:662.5px" width="11" height="9.5" viewBox="0 0 12 10"><use href="#n123"/></svg><div class="t" style="left:525.6px;top:661.5px;font-size:9.8px;line-height:12px;font-weight:700;color:#222">#</div><div class="a" style="left:504px;top:687.5px;width:112px;height:19px;background:#fcfcfc;border-bottom:1px solid #e4e4e4"></div><div class="t" style="left:509.3px;top:691.0px;font-size:9.8px;line-height:12px;color:#666">0</div><div class="a" style="left:504px;top:706.5px;width:112px;height:19px;background:#f2f2f2;border-bottom:1px solid #e4e4e4"></div><div class="t" style="left:509.3px;top:710.0px;font-size:9.8px;line-height:12px;color:#666">1</div><div class="a" style="left:504px;top:725.5px;width:112px;height:19px;background:#fcfcfc;border-bottom:1px solid #e4e4e4"></div><div class="t" style="left:509.3px;top:729.0px;font-size:9.8px;line-height:12px;color:#666">2</div><div class="a" style="left:504px;top:744.5px;width:112px;height:19px;background:#f2f2f2;border-bottom:1px solid #e4e4e4"></div><div class="t" style="left:509.3px;top:748.0px;font-size:9.8px;line-height:12px;color:#666">3</div><div class="a" style="left:504px;top:763.5px;width:112px;height:19px;background:#fcfcfc;border-bottom:1px solid #e4e4e4"></div><div class="t" style="left:509.3px;top:767.0px;font-size:9.8px;line-height:12px;color:#666">4</div><div class="a" style="left:504px;top:782.5px;width:112px;height:19px;background:#f2f2f2;border-bottom:1px solid #e4e4e4"></div><div class="t" style="left:509.3px;top:786.0px;font-size:9.8px;line-height:12px;color:#666">5</div><div class="a" style="left:616px;top:649.5px;width:167.39999999999998px;height:37px;background:#fff"></div><div class="a" style="left:616px;top:685.3px;width:167.39999999999998px;height:2.2px;background:#3a73b5"></div><svg class="a" style="left:624.4px;top:662.5px" width="11" height="9.5" viewBox="0 0 12 10"><use href="#abc"/></svg><div class="t" style="left:638.1999999999999px;top:661.5px;font-size:9.8px;line-height:12px;font-weight:700;color:#222">Entity</div><div class="a" style="left:615px;top:687.5px;width:169.39999999999998px;height:19px;background:#fcfcfc;border-bottom:1px solid #e4e4e4"></div><div class="t" style="left:621.9px;top:691.0px;font-size:9.8px;line-height:12px;color:#222">China</div><div class="a" style="left:615px;top:706.5px;width:169.39999999999998px;height:19px;background:#f2f2f2;border-bottom:1px solid #e4e4e4"></div><div class="t" style="left:621.9px;top:710.0px;font-size:9.8px;line-height:12px;color:#222">China</div><div class="a" style="left:615px;top:725.5px;width:169.39999999999998px;height:19px;background:#fcfcfc;border-bottom:1px solid #e4e4e4"></div><div class="t" style="left:621.9px;top:729.0px;font-size:9.8px;line-height:12px;color:#222">China</div><div class="a" style="left:615px;top:744.5px;width:169.39999999999998px;height:19px;background:#f2f2f2;border-bottom:1px solid #e4e4e4"></div><div class="t" style="left:621.9px;top:748.0px;font-size:9.8px;line-height:12px;color:#222">China</div><div class="a" style="left:615px;top:763.5px;width:169.39999999999998px;height:19px;background:#fcfcfc;border-bottom:1px solid #e4e4e4"></div><div class="t" style="left:621.9px;top:767.0px;font-size:9.8px;line-height:12px;color:#222">China</div><div class="a" style="left:615px;top:782.5px;width:169.39999999999998px;height:19px;background:#f2f2f2;border-bottom:1px solid #e4e4e4"></div><div class="t" style="left:621.9px;top:786.0px;font-size:9.8px;line-height:12px;color:#222">China</div><div class="a" style="left:785px;top:649.5px;width:180px;height:37px;background:#fbf5f1"></div><div class="a" style="left:785px;top:685.3px;width:180px;height:2.2px;background:#eba68a"></div><svg class="a" style="left:792.0px;top:662.5px" width="11" height="9.5" viewBox="0 0 12 10"><use href="#abc"/></svg><div class="t" style="left:805.8px;top:661.5px;font-size:9.8px;line-height:12px;font-weight:700;color:#222">Global Median?</div><div class="a" style="left:784px;top:687.5px;width:182px;height:19px;background:#fbf6f3;border-bottom:1px solid #e4e4e4"></div><div class="t" style="left:789.5px;top:691.0px;font-size:9.8px;line-height:12px;color:#222">No</div><div class="a" style="left:784px;top:706.5px;width:182px;height:19px;background:#f2ebe8;border-bottom:1px solid #e4e4e4"></div><div class="t" style="left:789.5px;top:710.0px;font-size:9.8px;line-height:12px;color:#222">No</div><div class="a" style="left:784px;top:725.5px;width:182px;height:19px;background:#fbf6f3;border-bottom:1px solid #e4e4e4"></div><div class="t" style="left:789.5px;top:729.0px;font-size:9.8px;line-height:12px;color:#222">No</div><div class="a" style="left:784px;top:744.5px;width:182px;height:19px;background:#f2ebe8;border-bottom:1px solid #e4e4e4"></div><div class="t" style="left:789.5px;top:748.0px;font-size:9.8px;line-height:12px;color:#222">No</div><div class="a" style="left:784px;top:763.5px;width:182px;height:19px;background:#fbf6f3;border-bottom:1px solid #e4e4e4"></div><div class="t" style="left:789.5px;top:767.0px;font-size:9.8px;line-height:12px;color:#222">No</div><div class="a" style="left:784px;top:782.5px;width:182px;height:19px;background:#f2ebe8;border-bottom:1px solid #e4e4e4"></div><div class="t" style="left:789.5px;top:786.0px;font-size:9.8px;line-height:12px;color:#222">No</div><div class="a" style="left:967px;top:649.5px;width:201px;height:37px;background:#fbf5f1"></div><div class="a" style="left:967px;top:685.3px;width:201px;height:2.2px;background:#eba68a"></div><svg class="a" style="left:975.2px;top:662.5px" width="11" height="9.5" viewBox="0 0 12 10"><use href="#n123"/></svg><div class="t" style="left:989.0px;top:661.5px;font-size:9.8px;line-height:12px;font-weight:700;color:#222">Renewable Percentage</div><div class="a" style="left:966px;top:687.5px;width:203px;height:19px;background:#fbf6f3;border-bottom:1px solid #e4e4e4"></div><div class="t" style="left:972.7px;top:691.0px;font-size:9.8px;line-height:12px;color:#222">16.639126586</div><div class="a" style="left:966px;top:706.5px;width:203px;height:19px;background:#f2ebe8;border-bottom:1px solid #e4e4e4"></div><div class="t" style="left:972.7px;top:710.0px;font-size:9.8px;line-height:12px;color:#222">18.9581237042</div><div class="a" style="left:966px;top:725.5px;width:203px;height:19px;background:#fbf6f3;border-bottom:1px solid #e4e4e4"></div><div class="t" style="left:972.7px;top:729.0px;font-size:9.8px;line-height:12px;color:#222">17.6185006046</div><div class="a" style="left:966px;top:744.5px;width:203px;height:19px;background:#f2ebe8;border-bottom:1px solid #e4e4e4"></div><div class="t" style="left:972.7px;top:748.0px;font-size:9.8px;line-height:12px;color:#222">15.0362717081</div><div class="a" style="left:966px;top:763.5px;width:203px;height:19px;background:#fbf6f3;border-bottom:1px solid #e4e4e4"></div><div class="t" style="left:972.7px;top:767.0px;font-size:9.8px;line-height:12px;color:#222">16.2224108273</div><div class="a" style="left:966px;top:782.5px;width:203px;height:19px;background:#f2ebe8;border-bottom:1px solid #e4e4e4"></div><div class="t" style="left:972.7px;top:786.0px;font-size:9.8px;line-height:12px;color:#222">16.4784170957</div><div class="a" style="left:1170px;top:649.5px;width:168px;height:37px;background:#fff"></div><div class="a" style="left:1170px;top:685.3px;width:168px;height:2.2px;background:#3a73b5"></div><svg class="a" style="left:1176.5px;top:662.5px" width="11" height="9.5" viewBox="0 0 12 10"><use href="#n123"/></svg><div class="t" style="left:1190.3px;top:661.5px;font-size:9.8px;line-height:12px;font-weight:700;color:#222">Year</div><div class="a" style="left:1169px;top:687.5px;width:170px;height:19px;background:#fcfcfc;border-bottom:1px solid #e4e4e4"></div><div class="t" style="left:1174px;top:691.0px;font-size:9.8px;line-height:12px;color:#222">2000</div><div class="a" style="left:1169px;top:706.5px;width:170px;height:19px;background:#f2f2f2;border-bottom:1px solid #e4e4e4"></div><div class="t" style="left:1174px;top:710.0px;font-size:9.8px;line-height:12px;color:#222">2001</div><div class="a" style="left:1169px;top:725.5px;width:170px;height:19px;background:#fcfcfc;border-bottom:1px solid #e4e4e4"></div><div class="t" style="left:1174px;top:729.0px;font-size:9.8px;line-height:12px;color:#222">2002</div><div class="a" style="left:1169px;top:744.5px;width:170px;height:19px;background:#f2f2f2;border-bottom:1px solid #e4e4e4"></div><div class="t" style="left:1174px;top:748.0px;font-size:9.8px;line-height:12px;color:#222">2003</div><div class="a" style="left:1169px;top:763.5px;width:170px;height:19px;background:#fcfcfc;border-bottom:1px solid #e4e4e4"></div><div class="t" style="left:1174px;top:767.0px;font-size:9.8px;line-height:12px;color:#222">2004</div><div class="a" style="left:1169px;top:782.5px;width:170px;height:19px;background:#f2f2f2;border-bottom:1px solid #e4e4e4"></div><div class="t" style="left:1174px;top:786.0px;font-size:9.8px;line-height:12px;color:#222">2005</div></div><div class="a" style="left:1338px;top:687px;width:12px;height:102px;background:#fdfdfd"></div><div class="a" style="left:1250.4px;top:751px;width:87.6px;height:38px;background:#fff;border-radius:4px;box-shadow:0 0 2px rgba(0,0,0,0.12)"></div><svg class="a" style="left:1262px;top:764px" width="8" height="12"><path d="M6 1.5 L2 6 L6 10.5" fill="none" stroke="#2266b8" stroke-width="1.6"/></svg><div class="t" style="left:1283.6px;top:764.5px;font-size:10.45px;line-height:13px;color:#666">126 rows</div><svg class="a" style="left:1554px;top:751.5px" width="17" height="17"><circle cx="8.3" cy="8.3" r="8" fill="#6f6f6f"/><circle cx="8.3" cy="4.6" r="1.2" fill="#fff"/><rect x="7.3" y="6.8" width="2" height="6" fill="#fff"/></svg><div class="t" style="left:1463px;top:771px;font-size:10.55px;line-height:13px;color:#9a9a9a">view data privacy notice</div>
<div class="ann" style="left:558.6px;top:102.6px;width:237.39999999999998px;height:81.4px"></div><div class="t" style="left:477.29999999999995px;width:400px;top:123.0px;font-size:18px;line-height:22px;color:#1b5878;text-align:center"><b>3. Data Threads:</b> navigate</div><div class="t" style="left:477.29999999999995px;width:400px;top:144.8px;font-size:18px;line-height:22px;color:#1b5878;text-align:center">data derivation history</div><div class="ann" style="left:846px;top:86.4px;width:260.5999999999999px;height:81.6px"></div><div class="t" style="left:776.3px;width:400px;top:106.4px;font-size:18px;line-height:22px;color:#1b5878;text-align:center"><b style="font-size:17.75px">2. (Local) Data Thread:</b></div><div class="t" style="left:776.3px;width:400px;top:128.20000000000002px;font-size:18px;line-height:22px;color:#1b5878;text-align:center">backtrack and revise inputs</div><div class="ann" style="left:1262.4px;top:633.3px;width:285.5999999999999px;height:96.20000000000005px"></div><div class="t" style="left:1205.2px;width:400px;top:649.8px;font-size:18px;line-height:22px;color:#1b5878;text-align:center"><b style="font-size:17.4px">1. Concept Encoding Shelf:</b></div><div class="t" style="left:1205.2px;width:400px;top:671.5999999999999px;font-size:18px;line-height:22px;color:#1b5878;text-align:center">specify chart with field</div><div class="t" style="left:1205.2px;width:400px;top:693.4px;font-size:18px;line-height:22px;color:#1b5878;text-align:center">encodings and NL instructions</div><div class="ann" style="left:251.25px;top:632px;width:232.55px;height:74px"></div><div class="t" style="left:167.52499999999998px;width:400px;top:648.0px;font-size:18px;line-height:22px;color:#1b5878;text-align:center"><b>4. Data View:</b> inspect</div><div class="t" style="left:167.52499999999998px;width:400px;top:669.8px;font-size:18px;line-height:22px;color:#1b5878;text-align:center">original and derived data</div><svg class="a" style="left:0;top:0" width="1595" height="800"><path d="M503,124 C517,124 527,125 530.5,132 C534,140 545,142 554,143" fill="none" stroke="#1b5676" stroke-width="1.7"/><circle cx="503" cy="124" r="3.2" fill="#1b5676"/><path d="M559.0,143.3 L551.2,146.3 L552.5,142.8 L551.8,139.1 Z" fill="#1b5676"/><path d="M1151,159 C1139,158 1130,151 1128.5,143 C1127,135 1120,129 1110,128" fill="none" stroke="#1b5676" stroke-width="1.7"/><circle cx="1151" cy="159" r="3.2" fill="#1b5676"/><path d="M1106.8,127.6 L1114.9,125.9 L1113.1,129.2 L1113.2,132.9 Z" fill="#1b5676"/><path d="M1344,589 C1372,589 1399,607 1404.5,629" fill="none" stroke="#1b5676" stroke-width="1.7"/><circle cx="1344" cy="589.2" r="3.2" fill="#1b5676"/><path d="M1405.0,633.5 L1400.3,626.6 L1404.0,627.1 L1407.4,625.5 Z" fill="#1b5676"/><path d="M502.6,737 C460,737 405,730 371,710" fill="none" stroke="#1b5676" stroke-width="1.7"/><circle cx="502.6" cy="737" r="3.2" fill="#1b5676"/><path d="M368.5,707.5 L376.7,709.1 L373.7,711.4 L372.3,714.9 Z" fill="#1b5676"/></svg>
</body></html>
